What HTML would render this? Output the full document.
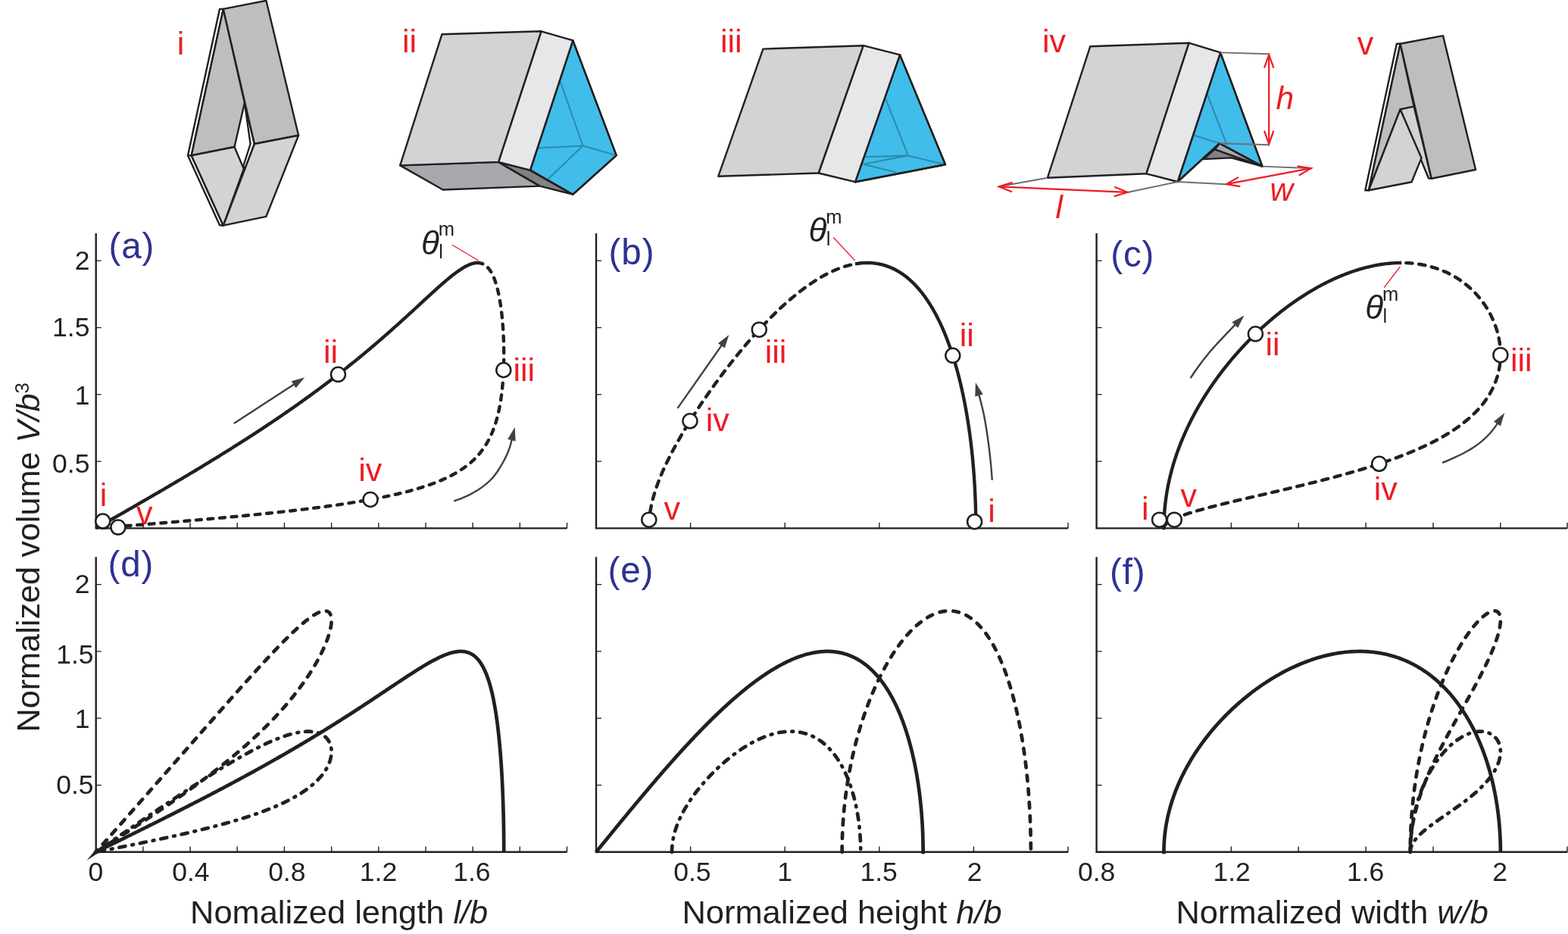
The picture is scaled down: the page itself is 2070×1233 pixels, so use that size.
<!DOCTYPE html>
<html lang="en">
<head>
<meta charset="utf-8">
<title>Normalized volume versus length, height and width</title>
<style>
html,body{margin:0;padding:0;background:#ffffff;}
body{width:2070px;height:1233px;overflow:hidden;}
svg{display:block;}
</style>
</head>
<body>
<svg width="2070" height="1233" viewBox="0 0 2070 1233" font-family="'Liberation Sans', sans-serif">
<rect width="2070" height="1233" fill="#ffffff"/>
<path d="M126.7 308L126.7 697.4L748.5 697.4" fill="none" stroke="#231f20" stroke-width="2.4" stroke-linejoin="miter"/>
<line x1="126.7" y1="609.1" x2="133.7" y2="609.1" stroke="#231f20" stroke-width="1.3" />
<line x1="126.7" y1="520.8" x2="133.7" y2="520.8" stroke="#231f20" stroke-width="1.3" />
<line x1="126.7" y1="432.5" x2="133.7" y2="432.5" stroke="#231f20" stroke-width="1.3" />
<line x1="126.7" y1="344.2" x2="133.7" y2="344.2" stroke="#231f20" stroke-width="1.3" />
<line x1="188.88" y1="697.4" x2="188.88" y2="690" stroke="#231f20" stroke-width="1.4" />
<line x1="251.06" y1="697.4" x2="251.06" y2="690" stroke="#231f20" stroke-width="1.4" />
<line x1="313.24" y1="697.4" x2="313.24" y2="690" stroke="#231f20" stroke-width="1.4" />
<line x1="375.42" y1="697.4" x2="375.42" y2="690" stroke="#231f20" stroke-width="1.4" />
<line x1="437.6" y1="697.4" x2="437.6" y2="690" stroke="#231f20" stroke-width="1.4" />
<line x1="499.78" y1="697.4" x2="499.78" y2="690" stroke="#231f20" stroke-width="1.4" />
<line x1="561.96" y1="697.4" x2="561.96" y2="690" stroke="#231f20" stroke-width="1.4" />
<line x1="624.14" y1="697.4" x2="624.14" y2="690" stroke="#231f20" stroke-width="1.4" />
<line x1="686.32" y1="697.4" x2="686.32" y2="690" stroke="#231f20" stroke-width="1.4" />
<line x1="748.5" y1="697.4" x2="748.5" y2="690" stroke="#231f20" stroke-width="1.4" />
<path d="M787 308L787 697.4L1410 697.4" fill="none" stroke="#231f20" stroke-width="2.4" stroke-linejoin="miter"/>
<line x1="787" y1="609.1" x2="794" y2="609.1" stroke="#231f20" stroke-width="1.3" />
<line x1="787" y1="520.8" x2="794" y2="520.8" stroke="#231f20" stroke-width="1.3" />
<line x1="787" y1="432.5" x2="794" y2="432.5" stroke="#231f20" stroke-width="1.3" />
<line x1="787" y1="344.2" x2="794" y2="344.2" stroke="#231f20" stroke-width="1.3" />
<line x1="911.6" y1="697.4" x2="911.6" y2="690" stroke="#231f20" stroke-width="1.4" />
<line x1="1036.2" y1="697.4" x2="1036.2" y2="690" stroke="#231f20" stroke-width="1.4" />
<line x1="1160.8" y1="697.4" x2="1160.8" y2="690" stroke="#231f20" stroke-width="1.4" />
<line x1="1285.4" y1="697.4" x2="1285.4" y2="690" stroke="#231f20" stroke-width="1.4" />
<line x1="1410" y1="697.4" x2="1410" y2="690" stroke="#231f20" stroke-width="1.4" />
<path d="M1447.6 308L1447.6 697.4L2069.2 697.4" fill="none" stroke="#231f20" stroke-width="2.4" stroke-linejoin="miter"/>
<line x1="1447.6" y1="609.1" x2="1454.6" y2="609.1" stroke="#231f20" stroke-width="1.3" />
<line x1="1447.6" y1="520.8" x2="1454.6" y2="520.8" stroke="#231f20" stroke-width="1.3" />
<line x1="1447.6" y1="432.5" x2="1454.6" y2="432.5" stroke="#231f20" stroke-width="1.3" />
<line x1="1447.6" y1="344.2" x2="1454.6" y2="344.2" stroke="#231f20" stroke-width="1.3" />
<line x1="1536.48" y1="697.4" x2="1536.48" y2="690" stroke="#231f20" stroke-width="1.4" />
<line x1="1625.36" y1="697.4" x2="1625.36" y2="690" stroke="#231f20" stroke-width="1.4" />
<line x1="1714.24" y1="697.4" x2="1714.24" y2="690" stroke="#231f20" stroke-width="1.4" />
<line x1="1803.12" y1="697.4" x2="1803.12" y2="690" stroke="#231f20" stroke-width="1.4" />
<line x1="1892" y1="697.4" x2="1892" y2="690" stroke="#231f20" stroke-width="1.4" />
<line x1="1980.88" y1="697.4" x2="1980.88" y2="690" stroke="#231f20" stroke-width="1.4" />
<line x1="2069" y1="697.4" x2="2069" y2="690" stroke="#231f20" stroke-width="1.4" />
<text x="118.4" y="623.7" font-size="35.5" fill="#231f20" text-anchor="end" >0.5</text>
<text x="118.4" y="533.7" font-size="35.5" fill="#231f20" text-anchor="end" >1</text>
<text x="118.4" y="444.4" font-size="35.5" fill="#231f20" text-anchor="end" >1.5</text>
<text x="118.4" y="355.5" font-size="35.5" fill="#231f20" text-anchor="end" >2</text>
<path d="M126.7 735.3L126.7 1124.8L748.5 1124.8" fill="none" stroke="#231f20" stroke-width="2.4" stroke-linejoin="miter"/>
<line x1="126.7" y1="1036.5" x2="133.7" y2="1036.5" stroke="#231f20" stroke-width="1.3" />
<line x1="126.7" y1="948.2" x2="133.7" y2="948.2" stroke="#231f20" stroke-width="1.3" />
<line x1="126.7" y1="859.9" x2="133.7" y2="859.9" stroke="#231f20" stroke-width="1.3" />
<line x1="126.7" y1="771.6" x2="133.7" y2="771.6" stroke="#231f20" stroke-width="1.3" />
<line x1="188.88" y1="1124.8" x2="188.88" y2="1117.4" stroke="#231f20" stroke-width="1.4" />
<line x1="251.06" y1="1124.8" x2="251.06" y2="1117.4" stroke="#231f20" stroke-width="1.4" />
<line x1="313.24" y1="1124.8" x2="313.24" y2="1117.4" stroke="#231f20" stroke-width="1.4" />
<line x1="375.42" y1="1124.8" x2="375.42" y2="1117.4" stroke="#231f20" stroke-width="1.4" />
<line x1="437.6" y1="1124.8" x2="437.6" y2="1117.4" stroke="#231f20" stroke-width="1.4" />
<line x1="499.78" y1="1124.8" x2="499.78" y2="1117.4" stroke="#231f20" stroke-width="1.4" />
<line x1="561.96" y1="1124.8" x2="561.96" y2="1117.4" stroke="#231f20" stroke-width="1.4" />
<line x1="624.14" y1="1124.8" x2="624.14" y2="1117.4" stroke="#231f20" stroke-width="1.4" />
<line x1="686.32" y1="1124.8" x2="686.32" y2="1117.4" stroke="#231f20" stroke-width="1.4" />
<line x1="748.5" y1="1124.8" x2="748.5" y2="1117.4" stroke="#231f20" stroke-width="1.4" />
<text x="126.4" y="1163.1" font-size="35.5" fill="#231f20" text-anchor="middle" >0</text>
<text x="251.96" y="1163.1" font-size="35.5" fill="#231f20" text-anchor="middle" >0.4</text>
<text x="378.82" y="1163.1" font-size="35.5" fill="#231f20" text-anchor="middle" >0.8</text>
<text x="499.48" y="1163.1" font-size="35.5" fill="#231f20" text-anchor="middle" >1.2</text>
<text x="622.84" y="1163.1" font-size="35.5" fill="#231f20" text-anchor="middle" >1.6</text>
<path d="M787 735.3L787 1124.8L1410 1124.8" fill="none" stroke="#231f20" stroke-width="2.4" stroke-linejoin="miter"/>
<line x1="787" y1="1036.5" x2="794" y2="1036.5" stroke="#231f20" stroke-width="1.3" />
<line x1="787" y1="948.2" x2="794" y2="948.2" stroke="#231f20" stroke-width="1.3" />
<line x1="787" y1="859.9" x2="794" y2="859.9" stroke="#231f20" stroke-width="1.3" />
<line x1="787" y1="771.6" x2="794" y2="771.6" stroke="#231f20" stroke-width="1.3" />
<line x1="911.6" y1="1124.8" x2="911.6" y2="1117.4" stroke="#231f20" stroke-width="1.4" />
<line x1="1036.2" y1="1124.8" x2="1036.2" y2="1117.4" stroke="#231f20" stroke-width="1.4" />
<line x1="1160.8" y1="1124.8" x2="1160.8" y2="1117.4" stroke="#231f20" stroke-width="1.4" />
<line x1="1285.4" y1="1124.8" x2="1285.4" y2="1117.4" stroke="#231f20" stroke-width="1.4" />
<line x1="1410" y1="1124.8" x2="1410" y2="1117.4" stroke="#231f20" stroke-width="1.4" />
<text x="913.9" y="1163.1" font-size="35.5" fill="#231f20" text-anchor="middle" >0.5</text>
<text x="1036.2" y="1163.1" font-size="35.5" fill="#231f20" text-anchor="middle" >1</text>
<text x="1160.2" y="1163.1" font-size="35.5" fill="#231f20" text-anchor="middle" >1.5</text>
<text x="1286.6" y="1163.1" font-size="35.5" fill="#231f20" text-anchor="middle" >2</text>
<path d="M1447.6 735.3L1447.6 1124.8L2069.2 1124.8" fill="none" stroke="#231f20" stroke-width="2.4" stroke-linejoin="miter"/>
<line x1="1447.6" y1="1036.5" x2="1454.6" y2="1036.5" stroke="#231f20" stroke-width="1.3" />
<line x1="1447.6" y1="948.2" x2="1454.6" y2="948.2" stroke="#231f20" stroke-width="1.3" />
<line x1="1447.6" y1="859.9" x2="1454.6" y2="859.9" stroke="#231f20" stroke-width="1.3" />
<line x1="1447.6" y1="771.6" x2="1454.6" y2="771.6" stroke="#231f20" stroke-width="1.3" />
<line x1="1536.48" y1="1124.8" x2="1536.48" y2="1117.4" stroke="#231f20" stroke-width="1.4" />
<line x1="1625.36" y1="1124.8" x2="1625.36" y2="1117.4" stroke="#231f20" stroke-width="1.4" />
<line x1="1714.24" y1="1124.8" x2="1714.24" y2="1117.4" stroke="#231f20" stroke-width="1.4" />
<line x1="1803.12" y1="1124.8" x2="1803.12" y2="1117.4" stroke="#231f20" stroke-width="1.4" />
<line x1="1892" y1="1124.8" x2="1892" y2="1117.4" stroke="#231f20" stroke-width="1.4" />
<line x1="1980.88" y1="1124.8" x2="1980.88" y2="1117.4" stroke="#231f20" stroke-width="1.4" />
<line x1="2069" y1="1124.8" x2="2069" y2="1117.4" stroke="#231f20" stroke-width="1.4" />
<text x="1447.6" y="1163.1" font-size="35.5" fill="#231f20" text-anchor="middle" >0.8</text>
<text x="1626.16" y="1163.1" font-size="35.5" fill="#231f20" text-anchor="middle" >1.2</text>
<text x="1802.62" y="1163.1" font-size="35.5" fill="#231f20" text-anchor="middle" >1.6</text>
<text x="1980.18" y="1163.1" font-size="35.5" fill="#231f20" text-anchor="middle" >2</text>
<text x="123.6" y="1048" font-size="35.5" fill="#231f20" text-anchor="end" >0.5</text>
<text x="118.4" y="961.1" font-size="35.5" fill="#231f20" text-anchor="end" >1</text>
<text x="123.6" y="875.9" font-size="35.5" fill="#231f20" text-anchor="end" >1.5</text>
<text x="118.4" y="782.9" font-size="35.5" fill="#231f20" text-anchor="end" >2</text>
<text x="251.1" y="1218.8" font-size="43.4" fill="#231f20">Nomalized length <tspan font-style="italic">l/b</tspan></text>
<text x="900.5" y="1218.8" font-size="43.4" fill="#231f20">Normalized height <tspan font-style="italic">h/b</tspan></text>
<text x="1552.5" y="1218.8" font-size="43.4" fill="#231f20">Normalized width <tspan font-style="italic">w/b</tspan></text>
<text transform="translate(51.7 966.6) rotate(-90)" font-size="43.25" fill="#231f20">Normalized volume <tspan font-style="italic">V/b</tspan><tspan font-size="26" dy="-14">3</tspan></text>
<text x="143.5" y="341.4" font-size="47.5" fill="#2e3192" text-anchor="start" letter-spacing="0.9" >(a)</text>
<text x="803.6" y="349.1" font-size="47.5" fill="#2e3192" text-anchor="start" letter-spacing="0.9" >(b)</text>
<text x="1466.2" y="351.5" font-size="47.5" fill="#2e3192" text-anchor="start" letter-spacing="0.9" >(c)</text>
<text x="142.5" y="761" font-size="47.5" fill="#2e3192" text-anchor="start" letter-spacing="0.9" >(d)</text>
<text x="802.5" y="769.1" font-size="47.5" fill="#2e3192" text-anchor="start" letter-spacing="0.9" >(e)</text>
<text x="1465" y="771.2" font-size="47.5" fill="#2e3192" text-anchor="start" letter-spacing="0.9" >(f)</text>
<path d="M290 11.9 L294.8 11.9 L252.7 205.3 L294.8 297.7 L290 297.3 L248 205.3 Z" fill="#fff" stroke="#231f20" stroke-width="2.4" stroke-linejoin="round" stroke-linecap="round" /><path d="M294.8 11.9 L322.9 135.8 L309.5 194 L252.7 205.3 Z" fill="#bcbec0" stroke="#231f20" stroke-width="2.4" stroke-linejoin="round" stroke-linecap="round" /><path d="M252.7 205.3 L309.5 194 L321.8 222.9 L294.8 297.7 Z" fill="#d1d3d4" stroke="#231f20" stroke-width="2.4" stroke-linejoin="round" stroke-linecap="round" /><path d="M322.9 135.8 L335.9 190 L323.1 224.4 L321.3 219 L330.6 190 Z" fill="#fff" stroke="#231f20" stroke-width="2.4" stroke-linejoin="round" stroke-linecap="round" /><path d="M294.8 11.9 L351.4 0.8 L394.1 178.7 L335.9 190 Z" fill="#bcbec0" stroke="#231f20" stroke-width="2.4" stroke-linejoin="round" stroke-linecap="round" /><path d="M335.9 190 L394.1 178.7 L351.4 285.8 L294.8 297.7 Z" fill="#d1d3d4" stroke="#231f20" stroke-width="2.4" stroke-linejoin="round" stroke-linecap="round" /><line x1="248" y1="205.3" x2="252.7" y2="205.3" stroke="#231f20" stroke-width="2.4" />
<path d="M528.2 218.4 L658 213.9 L712.7 245.6 L584.7 250.5 Z" fill="#a7a9ac" stroke="#231f20" stroke-width="2.4" stroke-linejoin="round" stroke-linecap="round" /><path d="M658 213.9 L699.9 224.6 L756.3 256.7 L712.7 245.6 Z" fill="#808285" stroke="#231f20" stroke-width="2.4" stroke-linejoin="round" stroke-linecap="round" /><path d="M756.3 53.4 L813.7 205.1 L756.3 256.7 L699.9 224.6 Z" fill="#41bdea" stroke="#231f20" stroke-width="2.4" stroke-linejoin="round" stroke-linecap="round" /><line x1="739.8" y1="107.8" x2="769.5" y2="192.5" stroke="#2b8db0" stroke-width="2.1" /><line x1="709.6" y1="195.4" x2="769.5" y2="192.5" stroke="#2b8db0" stroke-width="2.1" /><line x1="813.7" y1="205.1" x2="769.5" y2="192.5" stroke="#2b8db0" stroke-width="2.1" /><line x1="723.2" y1="236.7" x2="769.5" y2="192.5" stroke="#2b8db0" stroke-width="2.1" /><path d="M756.3 53.4 L813.7 205.1 L756.3 256.7 L699.9 224.6 Z" fill="none" stroke="#231f20" stroke-width="2.4" stroke-linejoin="round" stroke-linecap="round" /><path d="M714.5 41.3 L756.3 53.4 L699.9 224.6 L658 213.9 Z" fill="#e6e7e8" stroke="#231f20" stroke-width="2.4" stroke-linejoin="round" stroke-linecap="round" /><path d="M583.5 45.2 L714.5 41.3 L658 213.9 L528.2 218.4 Z" fill="#d1d3d4" stroke="#231f20" stroke-width="2.4" stroke-linejoin="round" stroke-linecap="round" />
<path d="M1188 72.4 L1248 217.2 L1129 240.2 Z" fill="#41bdea" stroke="#231f20" stroke-width="2.4" stroke-linejoin="round" stroke-linecap="round" /><line x1="1169.5" y1="131.2" x2="1198.8" y2="205.4" stroke="#2b8db0" stroke-width="2.1" /><line x1="1198.8" y1="205.4" x2="1248" y2="217.2" stroke="#2b8db0" stroke-width="2.1" /><line x1="1142.3" y1="207.1" x2="1198.8" y2="205.4" stroke="#2b8db0" stroke-width="2.1" /><line x1="1139.6" y1="216.7" x2="1182.9" y2="227.5" stroke="#2b8db0" stroke-width="2.1" /><line x1="1139.6" y1="216.7" x2="1198.8" y2="205.4" stroke="#2b8db0" stroke-width="2.1" /><path d="M1188 72.4 L1248 217.2 L1129 240.2 Z" fill="none" stroke="#231f20" stroke-width="2.4" stroke-linejoin="round" stroke-linecap="round" /><path d="M1139.7 60.2 L1188 72.4 L1129 240.2 L1080.6 228.5 Z" fill="#e6e7e8" stroke="#231f20" stroke-width="2.4" stroke-linejoin="round" stroke-linecap="round" /><path d="M1007.4 64.6 L1139.7 60.2 L1080.6 228.5 L948.2 232.8 Z" fill="#d1d3d4" stroke="#231f20" stroke-width="2.4" stroke-linejoin="round" stroke-linecap="round" />
<path d="M1603.7 197.2 L1588.7 210.1 L1625.6 208.4 L1666.5 219.6 Z" fill="#808285" stroke="#231f20" stroke-width="2.4" stroke-linejoin="round" stroke-linecap="round" /><path d="M1610.1 189.2 L1666.5 219.6 L1603.7 197.2 Z" fill="#a7a9ac" stroke="#231f20" stroke-width="2.4" stroke-linejoin="round" stroke-linecap="round" /><path d="M1611.1 69.4 L1666.5 219.6 L1610.1 189.2 L1554.6 240 Z" fill="#41bdea" stroke="#231f20" stroke-width="2.4" stroke-linejoin="round" stroke-linecap="round" /><line x1="1593.6" y1="124.2" x2="1619.6" y2="191" stroke="#2b8db0" stroke-width="2.1" /><line x1="1575.6" y1="178.5" x2="1610.1" y2="189.2" stroke="#2b8db0" stroke-width="2.1" /><path d="M1611.1 69.4 L1666.5 219.6 L1610.1 189.2 L1554.6 240 Z" fill="none" stroke="#231f20" stroke-width="2.4" stroke-linejoin="round" stroke-linecap="round" /><path d="M1569.5 56.7 L1611.1 69.4 L1554.6 240 L1513.2 229.3 Z" fill="#e6e7e8" stroke="#231f20" stroke-width="2.4" stroke-linejoin="round" stroke-linecap="round" /><path d="M1439.2 61.3 L1569.5 56.7 L1513.2 229.3 L1382.9 234.7 Z" fill="#d1d3d4" stroke="#231f20" stroke-width="2.4" stroke-linejoin="round" stroke-linecap="round" /><line x1="1611.1" y1="69.4" x2="1675.2" y2="71.2" stroke="#6d6e71" stroke-width="1.9" /><line x1="1610.1" y1="189.2" x2="1675.2" y2="191.2" stroke="#6d6e71" stroke-width="1.9" /><line x1="1666.5" y1="219.6" x2="1731.7" y2="222.2" stroke="#6d6e71" stroke-width="1.9" /><line x1="1554.6" y1="240" x2="1618.5" y2="243.2" stroke="#6d6e71" stroke-width="1.9" /><line x1="1382.9" y1="234.7" x2="1318.8" y2="246.3" stroke="#6d6e71" stroke-width="1.9" /><line x1="1554.6" y1="240" x2="1489.5" y2="253.8" stroke="#6d6e71" stroke-width="1.9" /><line x1="1675.2" y1="72.2" x2="1675.2" y2="190.2" stroke="#ed1c24" stroke-width="2.2" /><path d="M1681.4 89.7L1675.2 72.2L1669 89.7" fill="none" stroke="#ed1c24" stroke-width="2.2" stroke-linejoin="miter" stroke-miterlimit="10"/><path d="M1669 172.7L1675.2 190.2L1681.4 172.7" fill="none" stroke="#ed1c24" stroke-width="2.2" stroke-linejoin="miter" stroke-miterlimit="10"/><line x1="1318.8" y1="246.3" x2="1488.5" y2="253.8" stroke="#ed1c24" stroke-width="2.2" /><path d="M1336.56 240.88L1318.8 246.3L1336.01 253.27" fill="none" stroke="#ed1c24" stroke-width="2.2" stroke-linejoin="miter" stroke-miterlimit="10"/><path d="M1470.74 259.22L1488.5 253.8L1471.29 246.83" fill="none" stroke="#ed1c24" stroke-width="2.2" stroke-linejoin="miter" stroke-miterlimit="10"/><line x1="1619" y1="243.2" x2="1730.8" y2="222.2" stroke="#ed1c24" stroke-width="2.2" /><path d="M1635.05 233.88L1619 243.2L1637.34 246.06" fill="none" stroke="#ed1c24" stroke-width="2.2" stroke-linejoin="miter" stroke-miterlimit="10"/><path d="M1714.75 231.52L1730.8 222.2L1712.46 219.34" fill="none" stroke="#ed1c24" stroke-width="2.2" stroke-linejoin="miter" stroke-miterlimit="10"/><text x="1684.5" y="143.9" font-size="42.5" fill="#ed1c24" text-anchor="start" font-style="italic" >h</text><text x="1676.5" y="264.6" font-size="42.5" fill="#ed1c24" text-anchor="start" font-style="italic" >w</text><text x="1393.5" y="288" font-size="42.5" fill="#ed1c24" text-anchor="start" font-style="italic" >l</text>
<path d="M1843.9 57.8 L1848.6 57.8 L1806.9 251.2 L1802.3 251.2 Z" fill="#fff" stroke="#231f20" stroke-width="2.4" stroke-linejoin="round" stroke-linecap="round" /><path d="M1848.6 57.8 L1866.6 140.6 L1848.6 144.4 L1806.9 251.2 Z" fill="#bcbec0" stroke="#231f20" stroke-width="2.4" stroke-linejoin="round" stroke-linecap="round" /><path d="M1848.6 144.4 L1866.6 140.6 L1889.8 235.8 L1885.9 235.3 Z" fill="#d1d3d4" stroke="#231f20" stroke-width="2.4" stroke-linejoin="round" stroke-linecap="round" /><path d="M1848.6 144.4 L1876.5 208.6 L1863.6 240.2 L1806.9 251.2 Z" fill="#d1d3d4" stroke="#231f20" stroke-width="2.4" stroke-linejoin="round" stroke-linecap="round" /><path d="M1848.6 57.8 L1905 47.1 L1948.1 224 L1889.8 235.8 Z" fill="#bcbec0" stroke="#231f20" stroke-width="2.4" stroke-linejoin="round" stroke-linecap="round" />
<path d="M630.5 346.97L632.18 347.05L633.8 347.28L635.36 347.65L636.86 348.16L638.31 348.82L639.7 349.61L641.05 350.53L642.34 351.59L643.58 352.77L644.78 354.09L645.94 355.52L646.83 356.76L647.69 358.07L648.53 359.46L649.34 360.91L650.12 362.44L650.88 364.04L651.62 365.7L652.33 367.43L653.02 369.22L653.68 371.08L654.16 372.51L654.64 373.97L655.09 375.46L655.54 376.99L655.98 378.54L656.4 380.13L656.81 381.74L657.21 383.38L657.6 385.05L657.98 386.75L658.35 388.47L658.7 390.21L659.05 391.98L659.38 393.77L659.71 395.59L660.02 397.42L660.33 399.27L660.62 401.15L660.9 403.04L661.18 404.95L661.44 406.88L661.7 408.82L661.94 410.78L662.18 412.75L662.41 414.74L662.62 416.74L662.83 418.75L663.03 420.78L663.22 422.81L663.4 424.85L663.57 426.9L663.73 428.96L663.89 431.03L664.03 433.1L664.17 435.18L664.3 437.27L664.41 439.36L664.53 441.45L664.63 443.54L664.72 445.64L664.81 447.74L664.88 449.84L664.95 451.94L665.01 454.04L665.06 456.14L665.1 458.24L665.14 460.33L665.17 462.43L665.18 464.52L665.19 466.6L665.19 468.68L665.19 470.76L665.17 472.83L665.15 474.9L665.12 476.95L665.08 479.01L665.03 481.05L664.97 483.09L664.91 485.12L664.83 487.14L664.75 489.15L664.66 491.15L664.56 493.15L664.45 495.13L664.34 497.1L664.21 499.06L664.08 501.02L663.94 502.96L663.79 504.89L663.63 506.8L663.46 508.71L663.28 510.61L663.09 512.49L662.9 514.36L662.69 516.21L662.48 518.06L662.26 519.89L662.02 521.71L661.78 523.52L661.53 525.31L661.27 527.09L661 528.86L660.72 530.61L660.43 532.35L660.13 534.07L659.81 535.79L659.49 537.48L659.16 539.17L658.82 540.84L658.47 542.5L658.1 544.14L657.73 545.77L657.34 547.39L656.95 548.99L656.54 550.58L656.12 552.16L655.69 553.72L655.25 555.27L654.79 556.81L654.32 558.33L653.84 559.84L653.35 561.34L652.85 562.82L652.33 564.29L651.8 565.75L651.25 567.19L650.69 568.62L650.12 570.04L649.54 571.45L648.93 572.84L648.32 574.22L647.69 575.59L647.04 576.95L646.16 578.74L645.25 580.51L644.31 582.26L643.34 583.99L642.34 585.7L641.31 587.39L640.25 589.06L639.15 590.7L638.02 592.34L636.86 593.95L635.66 595.54L634.43 597.12L633.48 598.29L632.51 599.45L631.51 600.6L630.5 601.74L629.46 602.87L628.4 603.99L627.32 605.1L626.21 606.2L625.08 607.3L623.92 608.38L622.73 609.46L621.52 610.53L620.29 611.59L619.02 612.64L617.73 613.68L616.41 614.71L615.06 615.74L613.67 616.76L612.26 617.77L610.82 618.77L609.35 619.77L607.84 620.76L606.3 621.74L604.72 622.71L603.11 623.68L601.46 624.64L599.78 625.59L598.06 626.54L596.3 627.47L594.5 628.41L592.67 629.33L590.79 630.25L588.86 631.17L586.9 632.07L584.89 632.98L582.84 633.87L581.44 634.47L580.03 635.06L578.59 635.65L577.13 636.23L575.65 636.82L574.15 637.4L572.63 637.98L571.08 638.55L569.51 639.13L567.92 639.7L566.3 640.27L564.66 640.83L562.99 641.4L561.3 641.96L559.59 642.52L557.85 643.08L556.08 643.64L554.29 644.19L552.47 644.74L550.62 645.29L548.74 645.84L546.84 646.39L544.91 646.93L542.95 647.47L540.96 648.01L538.94 648.55L536.89 649.09L534.81 649.62L532.71 650.15L530.56 650.68L528.39 651.21L526.19 651.74L523.95 652.27L521.68 652.79L519.38 653.31L517.04 653.83L514.67 654.35L512.26 654.87L509.82 655.38L507.35 655.9L504.84 656.41L502.29 656.92L499.7 657.43L497.08 657.94L494.42 658.44L491.72 658.95L488.99 659.45L486.21 659.95L483.4 660.45L480.54 660.95L477.65 661.45L474.71 661.94L473.23 662.19L471.74 662.44L470.23 662.69L468.72 662.93L467.2 663.18L465.66 663.43L464.12 663.67L462.56 663.92L460.99 664.16L459.42 664.41L457.83 664.65L456.23 664.9L454.62 665.14L453 665.38L451.37 665.63L449.73 665.87L448.08 666.11L446.41 666.35L444.74 666.6L443.05 666.84L441.36 667.08L439.65 667.32L437.93 667.56L436.2 667.8L434.46 668.04L432.71 668.28L430.94 668.52L429.17 668.76L427.38 669L425.58 669.24L423.77 669.48L421.95 669.72L420.12 669.96L418.28 670.2L416.42 670.44L414.56 670.67L412.68 670.91L410.79 671.15L408.89 671.39L406.98 671.62L405.05 671.86L403.12 672.09L401.17 672.33L399.21 672.57L397.24 672.8L395.26 673.04L393.26 673.27L391.26 673.51L389.24 673.74L387.21 673.98L385.17 674.21L383.12 674.45L381.06 674.68L378.98 674.91L376.89 675.15L374.8 675.38L372.69 675.61L370.57 675.85L368.43 676.08L366.29 676.31L364.13 676.54L361.96 676.78L359.79 677.01L357.6 677.24L355.39 677.47L353.18 677.7L350.96 677.93L348.72 678.17L346.47 678.4L344.22 678.63L341.95 678.86L339.67 679.09L337.37 679.32L335.07 679.55L332.76 679.78L330.43 680.01L328.1 680.24L325.75 680.47L323.4 680.7L321.03 680.93L318.65 681.16L316.26 681.39L313.86 681.61L311.45 681.84L309.03 682.07L306.6 682.3L304.16 682.53L301.71 682.76L299.25 682.98L296.78 683.21L294.3 683.44L291.81 683.67L289.31 683.89L286.81 684.12L284.29 684.35L281.76 684.58L279.22 684.8L276.68 685.03L274.12 685.26L271.56 685.48L268.99 685.71L266.4 685.94L263.81 686.16L261.22 686.39L258.61 686.62L256 686.84L253.37 687.07L250.74 687.29L248.1 687.52L245.46 687.75L242.8 687.97L240.14 688.2L237.48 688.42L234.8 688.65L232.12 688.87L229.43 689.1L226.73 689.32L224.03 689.55L221.32 689.77L218.61 690L215.89 690.22L213.16 690.45L210.43 690.67L207.69 690.9L204.95 691.12L202.2 691.35L199.45 691.57L196.69 691.8L193.93 692.02L191.16 692.25L188.39 692.47L185.61 692.69L182.84 692.92L180.05 693.14L177.27 693.37L174.47 693.59L171.68 693.82L168.88 694.04L166.09 694.26L163.28 694.49L160.48 694.71L157.67 694.94L154.86 695.16L152.05 695.38L149.24 695.61L146.43 695.83L143.61 696.06L140.79 696.28L137.98 696.5L135.16 696.73L132.34 696.95L129.52 697.18L126.7 697.4" fill="none" stroke="#231f20" stroke-width="4.4" stroke-linejoin="round" stroke-dasharray="6.9 8.7" stroke-linecap="round"/>
<path d="M630.5 346.97L628.76 347.04L626.95 347.25L625.46 347.54L623.92 347.92L622.33 348.4L620.7 348.98L619.02 349.66L617.29 350.44L615.51 351.32L614.14 352.04L612.74 352.83L611.3 353.67L609.84 354.57L608.34 355.53L606.81 356.54L605.25 357.62L603.65 358.75L602.02 359.94L600.35 361.19L598.64 362.5L596.89 363.86L595.71 364.8L594.5 365.77L593.28 366.77L592.04 367.79L590.79 368.84L589.51 369.91L588.21 371.01L586.9 372.13L585.57 373.28L584.21 374.46L582.84 375.66L581.44 376.88L580.03 378.14L578.59 379.42L577.13 380.72L575.65 382.05L574.15 383.41L572.63 384.79L571.08 386.19L569.51 387.62L567.92 389.08L566.3 390.56L564.66 392.07L562.99 393.6L561.3 395.16L559.59 396.74L557.85 398.35L556.08 399.98L554.29 401.63L552.47 403.31L550.62 405.02L548.74 406.75L546.84 408.5L544.91 410.28L542.95 412.08L540.96 413.9L538.94 415.75L536.89 417.62L534.81 419.52L532.71 421.44L530.56 423.38L528.39 425.35L526.19 427.34L523.95 429.35L522.82 430.36L521.68 431.38L520.53 432.41L519.38 433.44L518.21 434.48L517.04 435.52L515.86 436.57L514.67 437.62L513.47 438.68L512.26 439.75L511.05 440.82L509.82 441.89L508.59 442.97L507.35 444.06L506.1 445.15L504.84 446.25L503.57 447.35L502.29 448.46L501 449.57L499.7 450.69L498.4 451.82L497.08 452.94L495.76 454.08L494.42 455.22L493.08 456.36L491.72 457.51L490.36 458.67L488.99 459.83L487.6 461L486.21 462.17L484.81 463.34L483.4 464.52L481.97 465.71L480.54 466.9L479.1 468.1L477.65 469.3L476.19 470.5L474.71 471.71L473.23 472.93L471.74 474.15L470.23 475.37L468.72 476.6L467.2 477.84L465.66 479.08L464.12 480.32L462.56 481.57L460.99 482.83L459.42 484.08L457.83 485.35L456.23 486.61L454.62 487.89L453 489.16L451.37 490.44L449.73 491.73L448.08 493.02L446.41 494.32L444.74 495.62L443.05 496.92L441.36 498.23L439.65 499.54L437.93 500.86L436.2 502.18L434.46 503.5L432.71 504.83L430.94 506.17L429.17 507.5L427.38 508.85L425.58 510.19L423.77 511.54L421.95 512.9L420.12 514.26L418.28 515.62L416.42 516.98L414.56 518.35L412.68 519.73L410.79 521.11L408.89 522.49L406.98 523.88L405.05 525.27L403.12 526.66L401.17 528.06L399.21 529.46L397.24 530.86L395.26 532.27L393.26 533.68L391.26 535.1L389.24 536.52L387.21 537.94L385.17 539.37L383.12 540.8L381.06 542.23L378.98 543.67L376.89 545.11L374.8 546.55L372.69 548L370.57 549.45L368.43 550.9L366.29 552.36L364.13 553.82L361.96 555.28L359.79 556.75L357.6 558.22L355.39 559.69L353.18 561.16L350.96 562.64L348.72 564.12L346.47 565.61L344.22 567.1L341.95 568.59L339.67 570.08L337.37 571.57L335.07 573.07L332.76 574.57L330.43 576.08L328.1 577.59L325.75 579.1L323.4 580.61L321.03 582.12L318.65 583.64L316.26 585.16L313.86 586.68L311.45 588.21L309.03 589.73L306.6 591.26L304.16 592.8L301.71 594.33L299.25 595.87L296.78 597.41L294.3 598.95L291.81 600.49L289.31 602.04L286.81 603.58L284.29 605.13L281.76 606.69L279.22 608.24L276.68 609.79L274.12 611.35L271.56 612.91L268.99 614.47L266.4 616.04L263.81 617.6L261.22 619.17L258.61 620.74L256 622.31L253.37 623.88L250.74 625.45L248.1 627.03L245.46 628.61L242.8 630.19L240.14 631.77L237.48 633.35L234.8 634.93L232.12 636.51L229.43 638.1L226.73 639.69L224.03 641.27L221.32 642.86L218.61 644.46L215.89 646.05L213.16 647.64L210.43 649.23L207.69 650.83L204.95 652.43L202.2 654.02L199.45 655.62L196.69 657.22L193.93 658.82L191.16 660.42L188.39 662.02L185.61 663.63L182.84 665.23L180.05 666.83L177.27 668.44L174.47 670.04L171.68 671.65L168.88 673.26L166.09 674.86L163.28 676.47L160.48 678.08L157.67 679.69L154.86 681.3L152.05 682.91L149.24 684.52L146.43 686.13L143.61 687.74L140.79 689.35L137.98 690.96L135.16 692.57L132.34 694.18L129.52 695.79L126.7 697.4" fill="none" stroke="#231f20" stroke-width="4.4" stroke-linejoin="round"/>
<path d="M1128.95 348.41L1126.78 348.82L1124.6 349.27L1122.42 349.78L1120.96 350.15L1119.5 350.53L1118.04 350.94L1116.58 351.37L1115.12 351.82L1113.65 352.28L1112.19 352.77L1110.72 353.28L1109.25 353.81L1107.78 354.36L1106.31 354.93L1104.84 355.52L1103.37 356.13L1101.9 356.76L1100.42 357.41L1098.95 358.07L1097.48 358.75L1096 359.46L1094.53 360.18L1093.05 360.91L1091.58 361.67L1090.1 362.44L1088.63 363.23L1087.16 364.04L1085.68 364.86L1084.21 365.7L1082.74 366.56L1081.27 367.43L1079.8 368.32L1078.33 369.22L1076.86 370.14L1075.39 371.08L1073.92 372.03L1072.46 372.99L1070.99 373.97L1069.53 374.96L1068.07 375.97L1066.61 376.99L1065.15 378.02L1063.7 379.07L1062.24 380.13L1060.79 381.2L1059.34 382.29L1057.9 383.38L1056.45 384.49L1055.01 385.62L1053.57 386.75L1052.13 387.89L1050.7 389.05L1049.27 390.21L1047.84 391.39L1046.41 392.58L1044.99 393.77L1043.57 394.98L1042.15 396.2L1040.74 397.42L1039.33 398.65L1037.92 399.9L1036.52 401.15L1035.12 402.41L1033.73 403.68L1032.34 404.95L1030.95 406.24L1029.57 407.53L1028.19 408.82L1026.82 410.13L1025.45 411.44L1024.08 412.75L1022.72 414.08L1021.36 415.41L1020.01 416.74L1018.66 418.08L1017.32 419.43L1015.98 420.78L1014.65 422.13L1013.32 423.49L1012 424.85L1010.69 426.22L1009.37 427.59L1008.07 428.96L1006.77 430.34L1005.47 431.72L1004.18 433.1L1002.9 434.49L1001.62 435.88L1000.34 437.27L999.08 438.66L997.82 440.05L996.56 441.45L995.31 442.84L994.07 444.24L992.83 445.64L991.6 447.04L990.37 448.44L989.15 449.84L987.94 451.24L986.74 452.64L985.54 454.04L984.34 455.44L983.16 456.84L981.98 458.24L980.8 459.64L979.63 461.03L978.47 462.43L977.32 463.82L976.17 465.21L975.03 466.6L973.9 467.99L972.77 469.38L971.65 470.76L970.54 472.14L969.43 473.52L968.34 474.9L967.24 476.27L966.16 477.64L965.08 479.01L964.01 480.37L962.95 481.73L961.89 483.09L960.84 484.44L959.8 485.79L958.76 487.14L957.73 488.48L956.71 489.82L955.7 491.15L954.69 492.48L953.69 493.81L952.7 495.13L951.71 496.45L950.73 497.76L949.76 499.06L948.8 500.37L947.84 501.66L946.89 502.96L945.95 504.24L945.01 505.53L944.09 506.8L943.16 508.08L942.25 509.34L941.34 510.61L940.44 511.86L939.55 513.11L938.66 514.36L937.79 515.6L936.91 516.83L936.05 518.06L934.77 519.89L933.5 521.71L932.24 523.52L931.01 525.31L929.79 527.09L928.58 528.86L927.39 530.61L926.21 532.35L925.05 534.07L923.9 535.79L922.77 537.48L921.66 539.17L920.56 540.84L919.47 542.5L918.4 544.14L917.34 545.77L916.29 547.39L915.26 548.99L914.25 550.58L913.24 552.16L912.26 553.72L911.28 555.27L910.32 556.81L909.37 558.33L908.44 559.84L907.51 561.34L906.6 562.82L905.71 564.29L904.82 565.75L903.95 567.19L903.09 568.62L902.25 570.04L901.41 571.45L900.59 572.84L899.78 574.22L898.98 575.59L898.19 576.95L897.41 578.3L896.65 579.63L895.9 580.95L895.15 582.26L894.18 583.99L893.22 585.7L892.29 587.39L891.37 589.06L890.47 590.7L889.59 592.34L888.72 593.95L887.88 595.54L887.05 597.12L886.23 598.67L885.43 600.21L884.65 601.74L883.89 603.24L883.14 604.73L882.4 606.2L881.68 607.66L880.98 609.1L880.28 610.53L879.61 611.94L878.94 613.33L878.3 614.71L877.66 616.08L876.88 617.77L876.13 619.44L875.39 621.08L874.67 622.71L873.98 624.32L873.3 625.91L872.64 627.47L871.99 629.03L871.37 630.56L870.76 632.07L870.17 633.57L869.59 635.06L869.03 636.52L868.49 637.98L867.96 639.41L867.45 640.83L866.85 642.52L866.27 644.19L865.72 645.84L865.18 647.47L864.67 649.09L864.17 650.68L863.69 652.27L863.23 653.83L862.79 655.38L862.37 656.92L861.96 658.44L861.57 659.95L861.2 661.45L860.84 662.93L860.5 664.41L860.13 666.11L859.77 667.8L859.44 669.48L859.12 671.15L858.83 672.8L858.55 674.45L858.3 676.08L858.06 677.7L857.85 679.32L857.65 680.93L857.47 682.53L857.31 684.12L857.17 685.71L857.05 687.29L856.94 688.87L856.85 690.45L856.79 692.02L856.73 693.59L856.7 695.16L856.68 696.73L856.68 697.4" fill="none" stroke="#231f20" stroke-width="4.4" stroke-linejoin="round" stroke-dasharray="8.3 8.7" stroke-linecap="round" stroke-dashoffset="11.0"/>
<path d="M1128.95 348.41L1131.12 348.05L1133.28 347.74L1135.44 347.48L1137.59 347.28L1139.73 347.12L1141.87 347.02L1144 346.97L1146.13 346.98L1148.25 347.04L1150.35 347.15L1152.46 347.32L1154.55 347.54L1156.63 347.81L1158.71 348.15L1160.78 348.53L1162.83 348.98L1164.88 349.48L1166.92 350.03L1168.95 350.65L1170.96 351.32L1172.97 352.04L1174.97 352.83L1176.95 353.67L1178.93 354.57L1180.89 355.53L1182.84 356.54L1184.78 357.62L1186.71 358.75L1187.98 359.54L1189.25 360.35L1190.52 361.19L1191.78 362.05L1193.04 362.95L1194.28 363.86L1195.53 364.8L1196.76 365.77L1197.99 366.77L1199.22 367.79L1200.44 368.84L1201.65 369.91L1202.85 371.01L1204.05 372.13L1205.24 373.28L1206.43 374.46L1207.61 375.66L1208.78 376.88L1209.95 378.14L1211.11 379.42L1212.26 380.72L1213.41 382.05L1214.55 383.41L1215.68 384.79L1216.8 386.19L1217.92 387.62L1219.03 389.08L1220.13 390.56L1221.23 392.07L1222.32 393.6L1223.4 395.16L1224.47 396.74L1225.54 398.35L1226.6 399.98L1227.65 401.63L1228.69 403.31L1229.73 405.02L1230.76 406.75L1231.78 408.5L1232.79 410.28L1233.79 412.08L1234.79 413.9L1235.78 415.75L1236.76 417.62L1237.73 419.52L1238.7 421.44L1239.65 423.38L1240.6 425.35L1241.54 427.34L1242.47 429.35L1243.4 431.38L1244.31 433.44L1245.22 435.52L1246.12 437.62L1247.01 439.75L1247.89 441.89L1248.76 444.06L1249.62 446.25L1250.48 448.46L1251.32 450.69L1252.16 452.94L1252.99 455.22L1253.81 457.51L1254.62 459.83L1255.42 462.17L1256.22 464.52L1257 466.9L1257.78 469.3L1258.54 471.71L1259.3 474.15L1260.05 476.6L1260.79 479.08L1261.51 481.57L1262.24 484.08L1262.95 486.61L1263.65 489.16L1264.34 491.73L1265.02 494.32L1265.7 496.92L1266.36 499.54L1267.02 502.18L1267.66 504.83L1268.3 507.5L1268.93 510.19L1269.54 512.9L1270.15 515.62L1270.75 518.35L1271.34 521.11L1271.91 523.88L1272.48 526.66L1273.04 529.46L1273.59 532.27L1274.13 535.1L1274.66 537.94L1275.18 540.8L1275.69 543.67L1276.19 546.55L1276.68 549.45L1277.16 552.36L1277.63 555.28L1278.09 558.22L1278.54 561.16L1278.99 564.12L1279.2 565.61L1279.42 567.1L1279.63 568.59L1279.84 570.08L1280.04 571.57L1280.25 573.07L1280.45 574.57L1280.65 576.08L1280.85 577.59L1281.04 579.1L1281.23 580.61L1281.42 582.12L1281.61 583.64L1281.79 585.16L1281.97 586.68L1282.15 588.21L1282.33 589.73L1282.5 591.26L1282.67 592.8L1282.84 594.33L1283.01 595.87L1283.17 597.41L1283.33 598.95L1283.49 600.49L1283.65 602.04L1283.8 603.58L1283.95 605.13L1284.1 606.69L1284.25 608.24L1284.39 609.79L1284.53 611.35L1284.67 612.91L1284.8 614.47L1284.94 616.04L1285.07 617.6L1285.2 619.17L1285.32 620.74L1285.44 622.31L1285.57 623.88L1285.68 625.45L1285.8 627.03L1285.91 628.61L1286.02 630.19L1286.13 631.77L1286.23 633.35L1286.34 634.93L1286.44 636.51L1286.53 638.1L1286.63 639.69L1286.72 641.27L1286.81 642.86L1286.9 644.46L1286.98 646.05L1287.06 647.64L1287.14 649.23L1287.22 650.83L1287.29 652.43L1287.36 654.02L1287.43 655.62L1287.5 657.22L1287.56 658.82L1287.62 660.42L1287.68 662.02L1287.74 663.63L1287.79 665.23L1287.84 666.83L1287.89 668.44L1287.93 670.04L1287.98 671.65L1288.02 673.26L1288.05 674.86L1288.09 676.47L1288.12 678.08L1288.15 679.69L1288.18 681.3L1288.2 682.91L1288.22 684.52L1288.24 686.13L1288.26 687.74L1288.28 689.35L1288.29 690.96L1288.3 692.57L1288.3 694.18L1288.31 695.79L1288.31 697.4" fill="none" stroke="#231f20" stroke-width="4.4" stroke-linejoin="round"/>
<path d="M1850.29 346.97L1852.25 346.99L1854.2 347.02L1856.14 347.09L1858.07 347.17L1859.99 347.28L1861.89 347.41L1863.79 347.56L1865.67 347.74L1867.54 347.94L1869.4 348.16L1871.24 348.41L1873.07 348.67L1874.9 348.96L1876.7 349.27L1878.5 349.61L1880.28 349.96L1882.05 350.34L1883.81 350.73L1885.55 351.15L1887.28 351.59L1889 352.05L1890.7 352.53L1892.39 353.03L1894.07 353.55L1895.73 354.09L1897.38 354.65L1899.02 355.23L1900.64 355.83L1902.25 356.44L1903.84 357.08L1905.42 357.74L1906.98 358.41L1908.53 359.1L1910.07 359.81L1911.59 360.54L1913.1 361.29L1914.59 362.05L1916.06 362.83L1917.52 363.63L1918.97 364.45L1920.4 365.28L1921.82 366.13L1923.22 366.99L1924.61 367.87L1925.98 368.77L1927.33 369.68L1928.67 370.61L1929.99 371.55L1931.3 372.51L1932.59 373.48L1933.87 374.46L1935.13 375.46L1936.38 376.48L1937.6 377.5L1938.82 378.54L1940.01 379.6L1941.19 380.66L1942.36 381.74L1943.5 382.83L1944.63 383.94L1945.75 385.05L1946.85 386.18L1947.93 387.32L1948.99 388.47L1950.04 389.63L1951.07 390.8L1952.09 391.98L1953.08 393.17L1954.06 394.37L1955.03 395.59L1955.97 396.81L1956.9 398.04L1957.82 399.27L1958.71 400.52L1959.59 401.78L1960.45 403.04L1961.29 404.31L1962.12 405.59L1962.93 406.88L1963.72 408.17L1964.49 409.47L1965.25 410.78L1965.99 412.1L1966.71 413.42L1967.42 414.74L1968.44 416.74L1969.42 418.75L1970.37 420.78L1971.27 422.81L1972.13 424.85L1972.96 426.9L1973.74 428.96L1974.48 431.03L1975.18 433.1L1975.84 435.18L1976.47 437.27L1977.05 439.36L1977.59 441.45L1978.09 443.54L1978.54 445.64L1978.96 447.74L1979.34 449.84L1979.67 451.94L1979.97 454.04L1980.22 456.14L1980.43 458.24L1980.6 460.33L1980.73 462.43L1980.82 464.52L1980.87 466.6L1980.88 468.68L1980.84 470.76L1980.77 472.83L1980.65 474.9L1980.49 476.95L1980.3 479.01L1980.06 481.05L1979.77 483.09L1979.45 485.12L1979.09 487.14L1978.69 489.15L1978.24 491.15L1977.76 493.15L1977.23 495.13L1976.66 497.1L1976.06 499.06L1975.41 501.02L1974.72 502.96L1973.99 504.89L1973.22 506.8L1972.41 508.71L1971.56 510.61L1970.67 512.49L1969.74 514.36L1968.77 516.21L1967.76 518.06L1966.71 519.89L1965.62 521.71L1964.49 523.52L1963.33 525.31L1962.12 527.09L1960.87 528.86L1959.59 530.61L1958.27 532.35L1956.9 534.07L1955.5 535.79L1954.06 537.48L1952.59 539.17L1951.58 540.29L1950.56 541.4L1949.52 542.5L1948.46 543.6L1947.39 544.69L1946.3 545.77L1945.19 546.85L1944.07 547.93L1942.93 548.99L1941.78 550.06L1940.6 551.11L1939.42 552.16L1938.21 553.2L1936.99 554.24L1935.76 555.27L1934.5 556.3L1933.23 557.32L1931.95 558.33L1930.65 559.34L1929.33 560.34L1928 561.34L1926.66 562.33L1925.29 563.31L1923.92 564.29L1922.52 565.26L1921.11 566.23L1919.69 567.19L1918.25 568.15L1916.8 569.1L1915.33 570.04L1913.84 570.98L1912.34 571.91L1910.83 572.84L1909.3 573.76L1907.76 574.68L1906.2 575.59L1904.63 576.5L1903.04 577.4L1901.44 578.3L1899.83 579.19L1898.2 580.07L1896.56 580.95L1894.9 581.83L1893.23 582.69L1891.55 583.56L1889.85 584.42L1888.14 585.27L1886.42 586.12L1884.68 586.97L1882.93 587.81L1881.17 588.64L1879.39 589.47L1877.6 590.29L1875.8 591.11L1873.99 591.93L1872.16 592.74L1870.32 593.55L1868.47 594.35L1866.61 595.14L1864.73 595.94L1862.84 596.72L1860.94 597.51L1859.03 598.29L1857.11 599.06L1855.18 599.83L1853.23 600.6L1851.27 601.36L1849.31 602.11L1847.33 602.87L1845.34 603.62L1843.34 604.36L1841.33 605.1L1839.31 605.84L1837.28 606.57L1835.24 607.3L1833.19 608.02L1831.12 608.74L1829.05 609.46L1826.97 610.17L1824.89 610.88L1822.79 611.59L1820.68 612.29L1818.56 612.99L1816.44 613.68L1814.3 614.37L1812.16 615.06L1810.01 615.74L1807.85 616.42L1805.69 617.1L1803.51 617.77L1801.33 618.44L1799.14 619.11L1796.94 619.77L1794.74 620.43L1792.53 621.08L1790.31 621.74L1788.09 622.39L1785.85 623.03L1783.62 623.68L1781.37 624.32L1779.13 624.96L1776.87 625.59L1774.61 626.22L1772.35 626.85L1770.08 627.47L1767.8 628.1L1765.52 628.72L1763.24 629.33L1760.95 629.95L1758.66 630.56L1756.36 631.17L1754.06 631.77L1751.76 632.38L1749.45 632.98L1747.14 633.57L1744.83 634.17L1742.52 634.76L1740.2 635.35L1737.88 635.94L1735.56 636.52L1733.24 637.11L1730.91 637.69L1728.59 638.26L1726.26 638.84L1723.94 639.41L1721.61 639.98L1719.28 640.55L1716.95 641.12L1714.63 641.68L1712.3 642.24L1709.98 642.8L1707.65 643.36L1705.33 643.91L1703.01 644.47L1700.69 645.02L1698.38 645.57L1696.06 646.11L1693.75 646.66L1691.45 647.2L1689.14 647.74L1686.84 648.28L1684.55 648.82L1682.25 649.35L1679.97 649.89L1677.68 650.42L1675.41 650.95L1673.13 651.48L1670.87 652L1668.61 652.53L1666.36 653.05L1664.11 653.57L1661.87 654.09L1659.64 654.61L1657.42 655.12L1655.2 655.64L1652.99 656.15L1650.8 656.66L1648.61 657.17L1646.43 657.68L1644.26 658.19L1642.1 658.69L1639.95 659.2L1637.81 659.7L1635.69 660.2L1633.57 660.7L1631.47 661.2L1629.38 661.7L1627.3 662.19L1625.24 662.69L1623.19 663.18L1621.15 663.67L1619.13 664.16L1617.12 664.65L1615.13 665.14L1613.15 665.63L1611.19 666.11L1609.25 666.6L1607.32 667.08L1605.41 667.56L1603.52 668.04L1601.64 668.52L1599.79 669L1597.95 669.48L1596.13 669.96L1594.33 670.44L1592.55 670.91L1590.79 671.39L1589.06 671.86L1587.34 672.33L1585.65 672.8L1583.97 673.27L1582.32 673.74L1580.7 674.21L1579.09 674.68L1577.51 675.15L1575.95 675.61L1574.42 676.08L1572.91 676.54L1571.43 677.01L1569.98 677.47L1568.55 677.93L1566.45 678.63L1564.42 679.32L1562.44 680.01L1560.54 680.7L1558.69 681.39L1556.91 682.07L1555.2 682.76L1553.56 683.44L1551.99 684.12L1550.48 684.8L1549.05 685.48L1547.7 686.16L1546 687.07L1544.44 687.97L1543.01 688.87L1541.72 689.77L1540.3 690.9L1539.1 692.02L1537.96 693.37L1537.14 694.71L1536.59 696.28L1536.48 697.4" fill="none" stroke="#231f20" stroke-width="4.4" stroke-linejoin="round" stroke-dasharray="8.3 8.7" stroke-linecap="round" stroke-dashoffset="11.0"/>
<path d="M1850.29 346.97L1848.32 346.98L1846.34 347.01L1844.34 347.07L1842.34 347.15L1840.32 347.25L1838.29 347.38L1836.26 347.54L1834.21 347.72L1832.16 347.92L1830.09 348.15L1828.02 348.4L1825.93 348.67L1823.84 348.98L1821.73 349.3L1819.62 349.66L1817.5 350.03L1815.37 350.44L1813.23 350.86L1811.09 351.32L1808.93 351.79L1806.77 352.3L1804.6 352.83L1802.42 353.38L1800.23 353.96L1798.04 354.57L1795.84 355.2L1793.63 355.86L1791.42 356.54L1789.2 357.25L1786.97 357.99L1784.74 358.75L1782.5 359.54L1780.25 360.35L1778 361.19L1775.74 362.05L1773.48 362.95L1771.21 363.86L1768.94 364.8L1766.66 365.77L1764.38 366.77L1762.09 367.79L1759.8 368.84L1757.51 369.91L1755.21 371.01L1752.91 372.13L1750.61 373.28L1748.3 374.46L1745.99 375.66L1743.67 376.88L1741.36 378.14L1739.04 379.42L1736.72 380.72L1734.4 382.05L1732.07 383.41L1729.75 384.79L1727.42 386.19L1725.1 387.62L1722.77 389.08L1720.44 390.56L1718.12 392.07L1715.79 393.6L1713.47 395.16L1711.14 396.74L1708.82 398.35L1706.49 399.98L1704.17 401.63L1701.85 403.31L1699.54 405.02L1697.22 406.75L1694.91 408.5L1692.6 410.28L1690.29 412.08L1687.99 413.9L1685.69 415.75L1683.4 417.62L1681.11 419.52L1678.82 421.44L1676.54 423.38L1675.41 424.36L1674.27 425.35L1673.13 426.34L1672 427.34L1670.87 428.34L1669.74 429.35L1668.61 430.36L1667.48 431.38L1666.36 432.41L1665.23 433.44L1664.11 434.48L1662.99 435.52L1661.87 436.57L1660.75 437.62L1659.64 438.68L1658.53 439.75L1657.42 440.82L1656.31 441.89L1655.2 442.97L1654.1 444.06L1652.99 445.15L1651.89 446.25L1650.8 447.35L1649.7 448.46L1648.61 449.57L1647.52 450.69L1646.43 451.82L1645.34 452.94L1644.26 454.08L1643.18 455.22L1642.1 456.36L1641.02 457.51L1639.95 458.67L1638.88 459.83L1637.81 461L1636.75 462.17L1635.69 463.34L1634.63 464.52L1633.57 465.71L1632.52 466.9L1631.47 468.1L1630.42 469.3L1629.38 470.5L1628.34 471.71L1627.3 472.93L1626.27 474.15L1625.24 475.37L1624.21 476.6L1623.19 477.84L1622.17 479.08L1621.15 480.32L1620.14 481.57L1619.13 482.83L1618.12 484.08L1617.12 485.35L1616.12 486.61L1615.13 487.89L1614.14 489.16L1613.15 490.44L1612.17 491.73L1611.19 493.02L1610.22 494.32L1609.25 495.62L1608.28 496.92L1607.32 498.23L1606.36 499.54L1605.41 500.86L1604.46 502.18L1603.52 503.5L1602.58 504.83L1601.64 506.17L1600.71 507.5L1599.79 508.85L1598.87 510.19L1597.95 511.54L1597.04 512.9L1596.13 514.26L1595.23 515.62L1594.33 516.98L1593.44 518.35L1592.55 519.73L1591.67 521.11L1590.79 522.49L1589.92 523.88L1589.06 525.27L1588.2 526.66L1587.34 528.06L1586.49 529.46L1585.65 530.86L1584.81 532.27L1583.97 533.68L1583.14 535.1L1582.32 536.52L1581.51 537.94L1580.7 539.37L1579.89 540.8L1579.09 542.23L1578.3 543.67L1577.51 545.11L1576.73 546.55L1575.95 548L1575.18 549.45L1574.42 550.9L1573.67 552.36L1572.91 553.82L1572.17 555.28L1571.43 556.75L1570.7 558.22L1569.98 559.69L1569.26 561.16L1568.55 562.64L1567.84 564.12L1567.14 565.61L1566.45 567.1L1565.77 568.59L1565.09 570.08L1564.42 571.57L1563.75 573.07L1563.1 574.57L1562.44 576.08L1561.8 577.59L1561.17 579.1L1560.54 580.61L1559.91 582.12L1559.3 583.64L1558.69 585.16L1558.09 586.68L1557.5 588.21L1556.91 589.73L1556.34 591.26L1555.77 592.8L1555.2 594.33L1554.65 595.87L1554.1 597.41L1553.56 598.95L1553.03 600.49L1552.5 602.04L1551.99 603.58L1551.48 605.13L1550.98 606.69L1550.48 608.24L1550 609.79L1549.52 611.35L1549.05 612.91L1548.59 614.47L1548.14 616.04L1547.7 617.6L1547.26 619.17L1546.83 620.74L1546.41 622.31L1546 623.88L1545.6 625.45L1545.2 627.03L1544.81 628.61L1544.44 630.19L1544.07 631.77L1543.7 633.35L1543.35 634.93L1543.01 636.51L1542.67 638.1L1542.34 639.69L1542.03 641.27L1541.72 642.86L1541.42 644.46L1541.12 646.05L1540.84 647.64L1540.56 649.23L1540.3 650.83L1540.04 652.43L1539.79 654.02L1539.55 655.62L1539.32 657.22L1539.1 658.82L1538.89 660.42L1538.68 662.02L1538.49 663.63L1538.3 665.23L1538.12 666.83L1537.96 668.44L1537.8 670.04L1537.65 671.65L1537.51 673.26L1537.37 674.86L1537.25 676.47L1537.14 678.08L1537.03 679.69L1536.94 681.3L1536.85 682.91L1536.77 684.52L1536.7 686.13L1536.64 687.74L1536.59 689.35L1536.55 690.96L1536.52 692.57L1536.5 694.18L1536.48 695.79L1536.48 697.4" fill="none" stroke="#231f20" stroke-width="4.4" stroke-linejoin="round"/>
<path d="M126.7 1124.8L128.58 1122.67L130.46 1120.54L132.34 1118.41L134.22 1116.28L136.1 1114.16L137.97 1112.03L139.85 1109.9L141.73 1107.77L143.6 1105.65L145.48 1103.52L147.35 1101.4L149.23 1099.28L151.1 1097.16L152.97 1095.04L154.84 1092.92L156.71 1090.8L158.57 1088.69L160.43 1086.58L162.3 1084.46L164.16 1082.36L166.02 1080.25L167.87 1078.14L169.73 1076.04L171.58 1073.94L173.43 1071.84L175.27 1069.75L177.12 1067.66L178.96 1065.57L180.8 1063.48L182.63 1061.4L184.46 1059.32L186.29 1057.24L188.12 1055.17L189.94 1053.1L191.76 1051.03L193.58 1048.97L195.39 1046.91L197.2 1044.86L199.01 1042.81L200.81 1040.76L202.61 1038.72L204.4 1036.68L206.19 1034.64L207.97 1032.62L209.76 1030.59L211.53 1028.57L213.3 1026.55L215.07 1024.54L216.84 1022.54L218.59 1020.54L220.35 1018.54L222.1 1016.55L223.84 1014.57L225.58 1012.59L227.32 1010.61L229.05 1008.64L230.77 1006.68L232.49 1004.73L234.2 1002.77L235.91 1000.83L237.61 998.89L239.31 996.96L241 995.03L242.69 993.11L244.37 991.2L246.04 989.29L247.71 987.39L249.38 985.5L251.03 983.61L252.68 981.73L254.33 979.86L255.97 977.99L257.6 976.13L259.23 974.28L260.85 972.43L262.46 970.6L264.07 968.77L265.67 966.95L267.26 965.13L268.85 963.32L270.43 961.52L272.01 959.73L273.57 957.95L275.13 956.17L276.69 954.41L278.24 952.65L279.78 950.9L281.31 949.16L282.84 947.42L284.36 945.7L285.87 943.98L287.37 942.27L288.87 940.57L290.36 938.88L291.85 937.2L293.32 935.52L294.79 933.86L296.25 932.2L297.71 930.56L299.16 928.92L300.6 927.29L302.03 925.67L303.45 924.06L304.87 922.46L306.28 920.87L307.68 919.29L309.08 917.72L310.47 916.15L311.85 914.6L313.22 913.06L314.58 911.53L315.94 910L317.29 908.49L318.63 906.99L319.97 905.49L321.29 904.01L322.61 902.54L323.92 901.08L325.22 899.62L326.52 898.18L327.81 896.75L329.09 895.33L330.36 893.92L331.62 892.52L332.88 891.13L334.13 889.75L335.37 888.38L336.6 887.02L337.83 885.67L339.04 884.33L340.25 883.01L341.45 881.69L342.65 880.39L343.83 879.09L345.01 877.81L346.18 876.54L347.34 875.28L348.49 874.03L349.64 872.79L350.78 871.56L351.91 870.34L353.03 869.14L354.14 867.94L355.25 866.76L356.35 865.59L357.44 864.43L358.52 863.28L359.59 862.14L360.66 861.02L361.72 859.9L362.77 858.8L363.81 857.7L365.36 856.09L366.89 854.49L368.41 852.93L369.9 851.39L371.38 849.88L372.84 848.39L374.29 846.93L375.71 845.49L377.12 844.08L378.51 842.7L379.89 841.34L381.24 840.01L382.58 838.71L383.9 837.43L385.21 836.18L386.5 834.95L387.77 833.75L389.02 832.58L390.25 831.43L391.47 830.31L392.67 829.22L393.86 828.15L395.03 827.11L396.18 826.1L397.31 825.11L398.8 823.83L400.25 822.6L401.68 821.41L403.07 820.28L404.44 819.19L405.78 818.14L407.09 817.14L408.37 816.19L409.62 815.28L411.14 814.21L412.62 813.21L414.05 812.28L415.44 811.42L416.78 810.64L418.34 809.78L419.83 809.02L421.26 808.37L422.85 807.72L424.36 807.21L425.98 806.78L427.49 806.53L429.06 806.43L430.65 806.56L432.2 807L433.56 807.72L434.72 808.73L435.68 810.02L436.38 811.43L436.88 812.88L437.25 814.5L437.46 816.08L437.58 817.79L437.6 819.39L437.54 821.08L437.42 822.6L437.25 824.19L437.02 825.84L436.73 827.56L436.44 829.03L436.12 830.55L435.76 832.11L435.35 833.71L434.91 835.35L434.42 837.03L433.89 838.75L433.33 840.51L432.84 841.94L432.33 843.39L431.8 844.86L431.24 846.36L430.65 847.88L430.03 849.42L429.39 850.99L428.72 852.57L428.03 854.17L427.31 855.8L426.56 857.44L425.78 859.1L424.98 860.79L424.15 862.49L423.29 864.2L422.41 865.94L421.49 867.69L420.79 869.02L420.07 870.36L419.34 871.7L418.59 873.06L417.83 874.42L417.05 875.8L416.25 877.18L415.44 878.57L414.61 879.97L413.77 881.37L412.91 882.79L412.03 884.21L411.14 885.65L410.23 887.09L409.31 888.53L408.37 889.99L407.41 891.45L406.44 892.92L405.45 894.4L404.44 895.89L403.42 897.38L402.38 898.88L401.32 900.38L400.25 901.89L399.16 903.41L398.06 904.94L396.93 906.47L395.79 908.01L394.64 909.55L393.47 911.1L392.28 912.66L391.07 914.22L389.84 915.79L388.6 917.36L387.34 918.94L386.07 920.53L384.78 922.12L383.47 923.71L382.14 925.31L380.79 926.92L379.43 928.53L378.05 930.14L376.66 931.76L375.24 933.39L373.81 935.01L372.36 936.65L370.89 938.29L369.41 939.93L367.91 941.57L366.38 943.22L365.36 944.33L364.33 945.43L363.29 946.54L362.24 947.65L361.19 948.76L360.13 949.87L359.06 950.98L357.98 952.09L356.89 953.21L355.8 954.33L354.7 955.45L353.59 956.57L352.47 957.69L351.34 958.81L350.21 959.94L349.07 961.07L347.92 962.2L346.76 963.33L345.59 964.46L344.42 965.59L343.24 966.72L342.05 967.86L340.85 969L339.65 970.13L338.43 971.27L337.21 972.41L335.99 973.56L334.75 974.7L333.5 975.84L332.25 976.99L330.99 978.14L329.72 979.28L328.45 980.43L327.16 981.58L325.87 982.74L324.57 983.89L323.27 985.04L321.95 986.2L320.63 987.35L319.3 988.51L317.96 989.67L316.62 990.82L315.26 991.98L313.9 993.15L312.53 994.31L311.16 995.47L309.77 996.63L308.38 997.8L306.98 998.96L305.58 1000.13L304.16 1001.3L302.74 1002.46L301.31 1003.63L299.88 1004.8L298.43 1005.97L296.98 1007.14L295.52 1008.32L294.06 1009.49L292.59 1010.66L291.11 1011.84L289.62 1013.01L288.12 1014.19L286.62 1015.37L285.11 1016.54L283.6 1017.72L282.07 1018.9L280.54 1020.08L279.01 1021.26L277.46 1022.44L275.91 1023.62L274.35 1024.8L272.79 1025.98L271.22 1027.17L269.64 1028.35L268.06 1029.54L266.47 1030.72L264.87 1031.91L263.26 1033.09L261.65 1034.28L260.04 1035.47L258.41 1036.65L256.79 1037.84L255.15 1039.03L253.51 1040.22L251.86 1041.41L250.21 1042.6L248.55 1043.79L246.88 1044.98L245.21 1046.17L243.53 1047.36L241.85 1048.55L240.16 1049.75L238.46 1050.94L236.76 1052.13L235.06 1053.33L233.35 1054.52L231.63 1055.72L229.91 1056.91L228.18 1058.11L226.45 1059.3L224.71 1060.5L222.97 1061.7L221.22 1062.89L219.47 1064.09L217.72 1065.29L215.95 1066.48L214.19 1067.68L212.42 1068.88L210.64 1070.08L208.86 1071.28L207.08 1072.48L205.29 1073.68L203.5 1074.87L201.71 1076.07L199.91 1077.27L198.1 1078.48L196.3 1079.68L194.49 1080.88L192.67 1082.08L190.85 1083.28L189.03 1084.48L187.21 1085.68L185.38 1086.88L183.55 1088.08L181.71 1089.29L179.88 1090.49L178.04 1091.69L176.19 1092.89L174.35 1094.1L172.5 1095.3L170.65 1096.5L168.8 1097.71L166.94 1098.91L165.09 1100.11L163.23 1101.32L161.37 1102.52L159.5 1103.72L157.64 1104.93L155.77 1106.13L153.9 1107.34L152.03 1108.54L150.16 1109.74L148.29 1110.95L146.42 1112.15L144.54 1113.36L142.67 1114.56L140.79 1115.77L138.91 1116.97L137.04 1118.17L135.16 1119.38L133.28 1120.58L131.4 1121.79L129.52 1122.99L127.64 1124.2L126.7 1124.8" fill="none" stroke="#231f20" stroke-width="4.7" stroke-linejoin="round" stroke-dasharray="7.6 10.3" stroke-linecap="round" stroke-dashoffset="4.25"/>
<path d="M1111.65 1124.8L1111.65 1122.99L1111.66 1121.19L1111.68 1119.38L1111.7 1117.57L1111.72 1115.77L1111.75 1113.96L1111.79 1112.15L1111.83 1110.35L1111.88 1108.54L1111.93 1106.73L1111.99 1104.93L1112.05 1103.12L1112.12 1101.32L1112.2 1099.51L1112.28 1097.71L1112.36 1095.9L1112.45 1094.1L1112.55 1092.29L1112.65 1090.49L1112.76 1088.69L1112.88 1086.88L1113 1085.08L1113.12 1083.28L1113.25 1081.48L1113.39 1079.68L1113.53 1077.87L1113.68 1076.07L1113.83 1074.28L1113.99 1072.48L1114.15 1070.68L1114.32 1068.88L1114.5 1067.08L1114.68 1065.29L1114.86 1063.49L1115.05 1061.7L1115.25 1059.9L1115.46 1058.11L1115.66 1056.31L1115.88 1054.52L1116.1 1052.73L1116.32 1050.94L1116.55 1049.15L1116.79 1047.36L1117.03 1045.58L1117.28 1043.79L1117.53 1042L1117.79 1040.22L1118.05 1038.44L1118.32 1036.65L1118.6 1034.87L1118.88 1033.09L1119.17 1031.31L1119.46 1029.54L1119.76 1027.76L1120.06 1025.98L1120.37 1024.21L1120.68 1022.44L1121 1020.67L1121.33 1018.9L1121.66 1017.13L1121.99 1015.37L1122.34 1013.6L1122.68 1011.84L1123.04 1010.08L1123.39 1008.32L1123.76 1006.56L1124.13 1004.8L1124.5 1003.05L1124.88 1001.3L1125.27 999.55L1125.66 997.8L1126.06 996.05L1126.46 994.31L1126.87 992.56L1127.29 990.82L1127.7 989.09L1128.13 987.35L1128.56 985.62L1129 983.89L1129.44 982.16L1129.89 980.43L1130.34 978.71L1130.8 976.99L1131.26 975.27L1131.73 973.56L1132.2 971.84L1132.68 970.13L1133.17 968.43L1133.66 966.72L1134.16 965.02L1134.66 963.33L1135.17 961.63L1135.68 959.94L1136.2 958.25L1136.72 956.57L1137.25 954.89L1137.79 953.21L1138.33 951.54L1138.87 949.87L1139.42 948.2L1139.98 946.54L1140.54 944.88L1141.11 943.22L1141.68 941.57L1142.26 939.93L1142.84 938.29L1143.43 936.65L1144.02 935.01L1144.62 933.39L1145.23 931.76L1145.84 930.14L1146.45 928.53L1147.07 926.92L1147.7 925.31L1148.33 923.71L1148.96 922.12L1149.6 920.53L1150.25 918.94L1150.9 917.36L1151.56 915.79L1152.22 914.22L1152.89 912.66L1153.56 911.1L1154.24 909.55L1154.92 908.01L1155.61 906.47L1156.3 904.94L1157 903.41L1157.7 901.89L1158.41 900.38L1159.12 898.88L1159.84 897.38L1160.56 895.89L1161.29 894.4L1162.02 892.92L1162.75 891.45L1163.5 889.99L1164.24 888.53L1164.99 887.09L1165.75 885.65L1166.51 884.21L1167.28 882.79L1168.05 881.37L1168.82 879.97L1169.6 878.57L1170.39 877.18L1171.18 875.8L1171.97 874.42L1172.77 873.06L1173.57 871.7L1174.38 870.36L1175.19 869.02L1176.01 867.69L1176.83 866.38L1177.65 865.07L1178.48 863.77L1179.31 862.49L1180.15 861.21L1180.99 859.94L1181.84 858.69L1182.69 857.44L1183.54 856.21L1184.69 854.58L1185.84 852.97L1187 851.38L1188.17 849.81L1189.34 848.27L1190.52 846.74L1191.71 845.24L1192.9 843.76L1194.1 842.3L1195.3 840.86L1196.52 839.45L1197.74 838.06L1198.96 836.69L1200.19 835.35L1201.43 834.04L1202.67 832.75L1203.92 831.48L1205.17 830.25L1206.43 829.03L1207.69 827.85L1208.96 826.69L1210.24 825.56L1211.51 824.46L1212.8 823.39L1214.09 822.34L1215.38 821.33L1216.67 820.34L1217.98 819.39L1219.28 818.46L1220.59 817.57L1221.9 816.71L1223.22 815.87L1224.54 815.08L1225.86 814.31L1227.18 813.58L1228.51 812.88L1230.18 812.05L1231.85 811.28L1233.52 810.56L1235.2 809.89L1236.88 809.29L1238.56 808.73L1240.24 808.24L1241.93 807.8L1243.62 807.43L1245.31 807.11L1247 806.85L1248.69 806.65L1250.39 806.52L1252.08 806.44L1253.77 806.43L1255.46 806.49L1257.15 806.6L1258.84 806.78L1260.53 807.03L1262.22 807.34L1263.9 807.72L1265.58 808.17L1267.26 808.68L1268.94 809.27L1270.61 809.92L1272.27 810.64L1273.93 811.42L1275.59 812.28L1276.91 813.02L1278.23 813.8L1279.54 814.63L1280.85 815.5L1282.16 816.42L1283.46 817.39L1284.75 818.4L1286.05 819.45L1287.33 820.56L1288.61 821.71L1289.89 822.9L1291.16 824.14L1292.42 825.43L1293.68 826.77L1294.93 828.15L1296.18 829.58L1297.42 831.06L1298.65 832.58L1299.87 834.15L1300.79 835.36L1301.7 836.59L1302.61 837.85L1303.51 839.14L1304.4 840.45L1305.3 841.79L1306.18 843.16L1307.07 844.55L1307.95 845.97L1308.82 847.41L1309.69 848.88L1310.55 850.38L1311.41 851.9L1312.27 853.45L1313.12 855.02L1313.96 856.62L1314.8 858.25L1315.63 859.9L1316.46 861.58L1317.28 863.28L1318.1 865.01L1318.91 866.76L1319.71 868.54L1320.51 870.34L1321.31 872.17L1322.09 874.03L1322.88 875.91L1323.65 877.81L1324.42 879.74L1325.18 881.69L1325.94 883.67L1326.69 885.67L1327.43 887.7L1328.17 889.75L1328.9 891.82L1329.62 893.92L1330.34 896.04L1330.81 897.46L1331.28 898.9L1331.75 900.35L1332.21 901.81L1332.67 903.27L1333.13 904.75L1333.59 906.24L1334.04 907.74L1334.49 909.25L1334.93 910.76L1335.38 912.29L1335.81 913.83L1336.25 915.38L1336.68 916.93L1337.11 918.5L1337.54 920.08L1337.96 921.66L1338.38 923.26L1338.79 924.86L1339.21 926.48L1339.61 928.1L1340.02 929.74L1340.42 931.38L1340.82 933.03L1341.22 934.69L1341.61 936.36L1341.99 938.04L1342.38 939.72L1342.76 941.42L1343.14 943.12L1343.51 944.84L1343.88 946.56L1344.25 948.29L1344.61 950.03L1344.97 951.77L1345.32 953.53L1345.68 955.29L1346.02 957.06L1346.37 958.84L1346.71 960.63L1347.04 962.42L1347.38 964.23L1347.71 966.04L1348.03 967.86L1348.35 969.68L1348.67 971.51L1348.99 973.36L1349.3 975.2L1349.6 977.06L1349.9 978.92L1350.2 980.79L1350.5 982.67L1350.79 984.55L1351.08 986.44L1351.36 988.34L1351.64 990.24L1351.91 992.15L1352.18 994.07L1352.45 995.99L1352.71 997.92L1352.97 999.86L1353.23 1001.8L1353.48 1003.75L1353.73 1005.7L1353.97 1007.66L1354.21 1009.63L1354.44 1011.6L1354.67 1013.58L1354.9 1015.56L1355.12 1017.55L1355.34 1019.54L1355.55 1021.54L1355.76 1023.54L1355.97 1025.55L1356.17 1027.56L1356.37 1029.58L1356.56 1031.6L1356.75 1033.63L1356.94 1035.66L1357.12 1037.7L1357.29 1039.74L1357.47 1041.78L1357.64 1043.83L1357.8 1045.88L1357.96 1047.94L1358.11 1050L1358.27 1052.07L1358.41 1054.13L1358.56 1056.21L1358.69 1058.28L1358.83 1060.36L1358.96 1062.44L1359.08 1064.53L1359.21 1066.61L1359.32 1068.7L1359.44 1070.8L1359.54 1072.89L1359.65 1074.99L1359.75 1077.09L1359.84 1079.2L1359.94 1081.3L1360.02 1083.41L1360.11 1085.52L1360.18 1087.63L1360.26 1089.75L1360.33 1091.86L1360.39 1093.98L1360.45 1096.1L1360.51 1098.22L1360.56 1100.34L1360.61 1102.46L1360.65 1104.59L1360.69 1106.71L1360.73 1108.84L1360.76 1110.96L1360.79 1113.09L1360.81 1115.22L1360.82 1117.35L1360.84 1119.48L1360.85 1121.61L1360.85 1123.74L1360.85 1124.8" fill="none" stroke="#231f20" stroke-width="4.7" stroke-linejoin="round" stroke-dasharray="7.6 10.3" stroke-linecap="round"/>
<path d="M1861.8 1124.8L1861.81 1122.99L1861.84 1121.19L1861.87 1119.38L1861.93 1117.57L1862 1115.77L1862.09 1113.96L1862.19 1112.15L1862.31 1110.35L1862.44 1108.54L1862.59 1106.73L1862.76 1104.93L1862.94 1103.12L1863.13 1101.32L1863.35 1099.51L1863.57 1097.71L1863.82 1095.9L1864.07 1094.1L1864.35 1092.29L1864.63 1090.49L1864.94 1088.69L1865.25 1086.88L1865.59 1085.08L1865.93 1083.28L1866.29 1081.48L1866.67 1079.68L1867.06 1077.87L1867.47 1076.07L1867.88 1074.28L1868.32 1072.48L1868.76 1070.68L1869.22 1068.88L1869.7 1067.08L1870.18 1065.29L1870.68 1063.49L1871.2 1061.7L1871.72 1059.9L1872.26 1058.11L1872.82 1056.31L1873.38 1054.52L1873.96 1052.73L1874.55 1050.94L1875.15 1049.15L1875.76 1047.36L1876.39 1045.58L1877.02 1043.79L1877.67 1042L1878.33 1040.22L1879 1038.44L1879.68 1036.65L1880.37 1034.87L1881.07 1033.09L1881.78 1031.31L1882.5 1029.54L1883.23 1027.76L1883.97 1025.98L1884.72 1024.21L1885.48 1022.44L1886.24 1020.67L1887.02 1018.9L1887.81 1017.13L1888.6 1015.37L1889.4 1013.6L1890.21 1011.84L1891.02 1010.08L1891.85 1008.32L1892.68 1006.56L1893.51 1004.8L1894.36 1003.05L1895.21 1001.3L1896.06 999.55L1896.93 997.8L1897.79 996.05L1898.67 994.31L1899.55 992.56L1900.43 990.82L1901.32 989.09L1902.21 987.35L1903.11 985.62L1904.01 983.89L1904.92 982.16L1905.83 980.43L1906.74 978.71L1907.66 976.99L1908.57 975.27L1909.5 973.56L1910.42 971.84L1911.35 970.13L1912.27 968.43L1913.2 966.72L1914.13 965.02L1915.07 963.33L1916 961.63L1916.93 959.94L1917.87 958.25L1918.8 956.57L1919.74 954.89L1920.67 953.21L1921.61 951.54L1922.54 949.87L1923.48 948.2L1924.41 946.54L1925.34 944.88L1926.27 943.22L1927.2 941.57L1928.12 939.93L1929.05 938.29L1929.97 936.65L1930.89 935.01L1931.8 933.39L1932.71 931.76L1933.62 930.14L1934.53 928.53L1935.43 926.92L1936.33 925.31L1937.23 923.71L1938.12 922.12L1939 920.53L1939.88 918.94L1940.76 917.36L1941.63 915.79L1942.49 914.22L1943.35 912.66L1944.21 911.1L1945.06 909.55L1945.9 908.01L1946.74 906.47L1947.57 904.94L1948.39 903.41L1949.2 901.89L1950.01 900.38L1950.82 898.88L1951.61 897.38L1952.4 895.89L1953.18 894.4L1953.95 892.92L1954.71 891.45L1955.46 889.99L1956.21 888.53L1956.95 887.09L1957.68 885.65L1958.4 884.21L1959.11 882.79L1959.81 881.37L1960.51 879.97L1961.19 878.57L1961.86 877.18L1962.53 875.8L1963.18 874.42L1963.82 873.06L1964.67 871.25L1965.49 869.47L1966.3 867.69L1967.08 865.94L1967.85 864.2L1968.6 862.49L1969.33 860.79L1970.03 859.1L1970.72 857.44L1971.39 855.8L1972.03 854.17L1972.66 852.57L1973.26 850.99L1973.84 849.42L1974.4 847.88L1974.94 846.36L1975.45 844.86L1975.94 843.39L1976.41 841.94L1976.97 840.15L1977.49 838.4L1977.97 836.69L1978.42 835.02L1978.83 833.39L1979.2 831.8L1979.54 830.25L1979.84 828.73L1980.15 826.98L1980.4 825.28L1980.61 823.65L1980.75 822.09L1980.84 820.58L1980.88 818.92L1980.84 817.35L1980.71 815.67L1980.48 814.12L1980.1 812.54L1979.54 810.98L1978.83 809.64L1977.88 808.43L1976.64 807.43L1975.2 806.76L1973.7 806.47L1972.19 806.46L1970.55 806.7L1968.96 807.15L1967.47 807.72L1966.1 808.37L1964.67 809.14L1963.18 810.05L1961.86 810.94L1960.51 811.93L1959.11 813.02L1957.92 814L1956.7 815.06L1955.46 816.19L1954.2 817.39L1952.92 818.66L1951.61 820L1950.55 821.13L1949.47 822.3L1948.39 823.52L1947.29 824.78L1946.18 826.1L1945.06 827.45L1943.92 828.86L1942.78 830.31L1941.63 831.81L1940.47 833.36L1939.3 834.95L1938.41 836.18L1937.52 837.43L1936.63 838.71L1935.73 840.01L1934.83 841.34L1933.93 842.7L1933.02 844.08L1932.11 845.49L1931.19 846.93L1930.27 848.39L1929.35 849.88L1928.43 851.39L1927.51 852.93L1926.58 854.49L1925.65 856.09L1924.72 857.7L1923.79 859.35L1922.85 861.02L1921.92 862.71L1920.99 864.43L1920.05 866.17L1919.12 867.94L1918.18 869.74L1917.25 871.56L1916.31 873.41L1915.38 875.28L1914.44 877.17L1913.51 879.09L1912.58 881.04L1911.65 883.01L1910.73 885L1909.8 887.02L1908.88 889.06L1908.27 890.43L1907.66 891.82L1907.04 893.21L1906.44 894.62L1905.83 896.04L1905.22 897.46L1904.62 898.9L1904.01 900.35L1903.41 901.81L1902.81 903.27L1902.21 904.75L1901.62 906.24L1901.02 907.74L1900.43 909.25L1899.84 910.76L1899.25 912.29L1898.67 913.83L1898.09 915.38L1897.5 916.93L1896.93 918.5L1896.35 920.08L1895.78 921.66L1895.21 923.26L1894.64 924.86L1894.08 926.48L1893.51 928.1L1892.95 929.74L1892.4 931.38L1891.85 933.03L1891.3 934.69L1890.75 936.36L1890.21 938.04L1889.67 939.72L1889.13 941.42L1888.6 943.12L1888.07 944.84L1887.54 946.56L1887.02 948.29L1886.5 950.03L1885.99 951.77L1885.48 953.53L1884.97 955.29L1884.47 957.06L1883.97 958.84L1883.48 960.63L1882.99 962.42L1882.5 964.23L1882.02 966.04L1881.54 967.86L1881.07 969.68L1880.6 971.51L1880.14 973.36L1879.68 975.2L1879.22 977.06L1878.77 978.92L1878.33 980.79L1877.89 982.67L1877.45 984.55L1877.02 986.44L1876.6 988.34L1876.18 990.24L1875.76 992.15L1875.35 994.07L1874.95 995.99L1874.55 997.92L1874.15 999.86L1873.76 1001.8L1873.38 1003.75L1873 1005.7L1872.63 1007.66L1872.26 1009.63L1871.9 1011.6L1871.55 1013.58L1871.2 1015.56L1870.85 1017.55L1870.52 1019.54L1870.18 1021.54L1869.86 1023.54L1869.54 1025.55L1869.22 1027.56L1868.92 1029.58L1868.61 1031.6L1868.32 1033.63L1868.03 1035.66L1867.74 1037.7L1867.47 1039.74L1867.19 1041.78L1866.93 1043.83L1866.67 1045.88L1866.42 1047.94L1866.17 1050L1865.93 1052.07L1865.7 1054.13L1865.47 1056.21L1865.25 1058.28L1865.04 1060.36L1864.83 1062.44L1864.63 1064.53L1864.44 1066.61L1864.25 1068.7L1864.07 1070.8L1863.9 1072.89L1863.73 1074.99L1863.57 1077.09L1863.42 1079.2L1863.27 1081.3L1863.13 1083.41L1863 1085.52L1862.88 1087.63L1862.76 1089.75L1862.65 1091.86L1862.54 1093.98L1862.44 1096.1L1862.35 1098.22L1862.27 1100.34L1862.19 1102.46L1862.12 1104.59L1862.06 1106.71L1862 1108.84L1861.95 1110.96L1861.91 1113.09L1861.87 1115.22L1861.85 1117.35L1861.83 1119.48L1861.81 1121.61L1861.8 1123.74L1861.8 1124.8" fill="none" stroke="#231f20" stroke-width="4.7" stroke-linejoin="round" stroke-dasharray="7.6 10.3" stroke-linecap="round"/>
<path d="M126.7 1124.8L128.58 1124.43L130.46 1124.06L132.34 1123.69L134.22 1123.32L136.1 1122.94L137.97 1122.57L139.85 1122.2L141.73 1121.83L143.6 1121.46L145.48 1121.09L147.35 1120.72L149.23 1120.34L151.1 1119.97L152.97 1119.6L154.84 1119.23L156.71 1118.86L158.57 1118.48L160.43 1118.11L162.3 1117.74L164.16 1117.37L166.02 1117L167.87 1116.62L169.73 1116.25L171.58 1115.88L173.43 1115.5L175.27 1115.13L177.12 1114.76L178.96 1114.38L180.8 1114.01L182.63 1113.63L184.46 1113.26L186.29 1112.89L188.12 1112.51L189.94 1112.14L191.76 1111.76L193.58 1111.39L195.39 1111.01L197.2 1110.63L199.01 1110.26L200.81 1109.88L202.61 1109.51L204.4 1109.13L206.19 1108.75L207.97 1108.37L209.76 1108L211.53 1107.62L213.3 1107.24L215.07 1106.86L216.84 1106.48L218.59 1106.1L220.35 1105.72L222.1 1105.34L223.84 1104.96L225.58 1104.58L227.32 1104.2L229.05 1103.82L230.77 1103.44L232.49 1103.05L234.2 1102.67L235.91 1102.29L237.61 1101.9L239.31 1101.52L241 1101.14L242.69 1100.75L244.37 1100.37L246.04 1099.98L247.71 1099.59L249.38 1099.21L251.03 1098.82L252.68 1098.43L254.33 1098.05L255.97 1097.66L257.6 1097.27L259.23 1096.88L260.85 1096.49L262.46 1096.1L264.07 1095.71L265.67 1095.32L267.26 1094.93L268.85 1094.53L270.43 1094.14L272.01 1093.75L273.57 1093.35L275.13 1092.96L276.69 1092.56L278.24 1092.17L279.78 1091.77L281.31 1091.37L282.84 1090.98L284.36 1090.58L285.87 1090.18L287.37 1089.78L288.87 1089.38L290.36 1088.98L291.85 1088.58L293.32 1088.18L294.79 1087.78L296.25 1087.37L297.71 1086.97L299.16 1086.56L301.31 1085.96L303.45 1085.35L305.58 1084.74L307.68 1084.13L309.77 1083.51L311.85 1082.9L313.9 1082.28L315.94 1081.66L317.96 1081.04L319.97 1080.42L321.95 1079.8L323.92 1079.17L325.87 1078.54L327.81 1077.92L329.72 1077.29L331.62 1076.65L333.5 1076.02L335.37 1075.39L337.21 1074.75L339.04 1074.11L340.85 1073.47L342.65 1072.83L344.42 1072.18L346.18 1071.53L347.92 1070.89L349.64 1070.24L351.34 1069.58L353.03 1068.93L354.7 1068.27L356.35 1067.62L357.98 1066.96L359.59 1066.29L361.19 1065.63L362.77 1064.97L364.33 1064.3L365.87 1063.63L367.4 1062.96L368.91 1062.28L370.4 1061.61L371.87 1060.93L373.33 1060.25L374.77 1059.57L376.19 1058.88L377.59 1058.2L378.97 1057.51L380.34 1056.82L381.69 1056.13L383.03 1055.44L384.78 1054.51L386.5 1053.58L388.19 1052.64L389.84 1051.7L391.47 1050.76L393.07 1049.81L394.64 1048.86L396.18 1047.91L397.68 1046.96L399.16 1046L400.61 1045.03L402.03 1044.07L403.42 1043.1L404.78 1042.13L406.11 1041.15L407.41 1040.17L408.68 1039.19L409.92 1038.2L411.14 1037.22L412.32 1036.23L413.48 1035.23L414.61 1034.24L415.98 1032.99L417.31 1031.74L418.59 1030.49L419.83 1029.23L421.03 1027.97L422.18 1026.7L423.29 1025.44L424.36 1024.17L425.38 1022.9L426.37 1021.63L427.31 1020.36L428.2 1019.08L429.06 1017.81L429.87 1016.54L430.8 1015.01L431.66 1013.49L432.46 1011.96L433.21 1010.44L433.89 1008.93L434.52 1007.42L435.09 1005.91L435.6 1004.41L436.05 1002.92L436.44 1001.44L436.78 999.97L437.1 998.27L437.34 996.59L437.5 994.92L437.59 993.28L437.59 991.66L437.52 990.06L437.37 988.5L437.14 986.96L436.83 985.46L436.44 983.99L435.98 982.56L435.35 980.97L434.62 979.44L433.78 977.97L432.84 976.56L431.8 975.22L430.65 973.95L429.55 972.9L428.38 971.91L427.12 970.98L425.78 970.12L424.36 969.32L422.85 968.6L421.26 967.95L419.83 967.45L418.34 967.01L416.78 966.62L415.16 966.3L413.48 966.03L411.74 965.83L410.23 965.72L408.68 965.64L407.09 965.62L405.45 965.63L403.76 965.7L402.03 965.82L400.25 965.98L398.43 966.19L396.93 966.4L395.41 966.63L393.86 966.9L392.28 967.21L390.66 967.54L389.02 967.91L387.34 968.31L385.64 968.75L383.9 969.22L382.14 969.72L380.34 970.26L378.51 970.84L376.66 971.44L374.77 972.08L373.33 972.59L371.87 973.11L370.4 973.66L368.91 974.22L367.4 974.8L365.87 975.41L364.33 976.03L362.77 976.67L361.19 977.33L359.59 978.01L357.98 978.72L356.35 979.44L354.7 980.18L353.03 980.94L351.34 981.72L349.64 982.52L347.92 983.34L346.18 984.18L344.42 985.04L342.65 985.92L340.85 986.82L339.04 987.74L337.21 988.68L335.37 989.63L333.5 990.61L331.62 991.61L329.72 992.62L327.81 993.66L325.87 994.71L323.92 995.78L321.95 996.87L320.63 997.61L319.3 998.36L317.96 999.11L316.62 999.88L315.26 1000.65L313.9 1001.43L312.53 1002.21L311.16 1003.01L309.77 1003.81L308.38 1004.63L306.98 1005.45L305.58 1006.27L304.16 1007.11L302.74 1007.95L301.31 1008.8L299.88 1009.66L298.43 1010.53L296.98 1011.4L295.52 1012.29L294.06 1013.18L292.59 1014.07L291.11 1014.98L289.62 1015.89L288.12 1016.81L286.62 1017.74L285.11 1018.67L283.6 1019.61L282.07 1020.56L280.54 1021.52L279.01 1022.48L277.46 1023.45L275.91 1024.43L274.35 1025.41L272.79 1026.41L271.22 1027.4L269.64 1028.41L268.06 1029.42L266.47 1030.44L264.87 1031.46L263.26 1032.49L261.65 1033.53L260.04 1034.57L258.41 1035.63L256.79 1036.68L255.15 1037.74L253.51 1038.81L251.86 1039.89L250.21 1040.97L248.55 1042.06L246.88 1043.15L245.21 1044.25L243.53 1045.35L241.85 1046.46L240.16 1047.57L238.46 1048.7L236.76 1049.82L235.06 1050.95L233.35 1052.09L231.63 1053.23L229.91 1054.38L228.18 1055.53L226.45 1056.69L224.71 1057.85L222.97 1059.02L221.22 1060.19L219.47 1061.36L217.72 1062.54L215.95 1063.73L214.19 1064.92L212.42 1066.11L210.64 1067.31L208.86 1068.51L207.08 1069.72L205.29 1070.93L203.5 1072.14L201.71 1073.36L199.91 1074.58L198.1 1075.8L196.3 1077.03L194.49 1078.26L192.67 1079.5L190.85 1080.74L189.03 1081.98L187.21 1083.22L185.38 1084.47L183.55 1085.72L181.71 1086.98L179.88 1088.23L178.04 1089.49L176.19 1090.75L174.35 1092.02L172.5 1093.28L170.65 1094.55L168.8 1095.82L166.94 1097.1L165.09 1098.37L163.23 1099.65L161.37 1100.93L159.5 1102.21L157.64 1103.49L155.77 1104.77L153.9 1106.06L152.03 1107.35L150.16 1108.63L148.29 1109.92L146.42 1111.21L144.54 1112.5L142.67 1113.8L140.79 1115.09L138.91 1116.38L137.04 1117.68L135.16 1118.97L133.28 1120.27L131.4 1121.56L129.52 1122.86L127.64 1124.15L126.7 1124.8" fill="none" stroke="#231f20" stroke-width="4.7" stroke-linejoin="round" stroke-dasharray="8.2 9.0 1.8 9.0" stroke-linecap="round" stroke-dashoffset="-3.3"/>
<path d="M887.03 1124.8L887.04 1123.13L887.09 1121.46L887.16 1119.79L887.27 1118.11L887.41 1116.44L887.56 1114.94L887.74 1113.45L887.94 1111.95L888.16 1110.45L888.41 1108.94L888.68 1107.43L888.98 1105.91L889.31 1104.39L889.66 1102.86L890.04 1101.33L890.44 1099.79L890.87 1098.24L891.33 1096.68L891.82 1095.12L892.33 1093.55L892.87 1091.97L893.44 1090.38L894.04 1088.78L894.58 1087.37L895.15 1085.96L895.75 1084.53L896.36 1083.1L897 1081.66L897.66 1080.21L898.35 1078.75L899.06 1077.29L899.79 1075.81L900.55 1074.32L901.34 1072.83L902.15 1071.32L902.98 1069.8L903.72 1068.49L904.48 1067.18L905.26 1065.85L906.05 1064.52L906.87 1063.18L907.71 1061.83L908.57 1060.48L909.45 1059.11L910.35 1057.74L911.27 1056.36L912.21 1054.97L913.18 1053.58L914.17 1052.17L915.17 1050.76L916.21 1049.34L917.26 1047.91L918.34 1046.48L919.25 1045.27L920.19 1044.07L921.13 1042.85L922.1 1041.64L923.08 1040.42L924.08 1039.19L925.09 1037.96L926.12 1036.72L927.17 1035.48L928.23 1034.24L929.31 1032.99L930.41 1031.74L931.53 1030.49L932.66 1029.23L933.81 1027.97L934.98 1026.7L936.16 1025.44L937.36 1024.17L938.58 1022.9L939.82 1021.63L941.07 1020.36L942.34 1019.08L943.63 1017.81L944.94 1016.54L946.26 1015.27L947.6 1013.99L948.96 1012.72L950.33 1011.46L951.44 1010.44L952.57 1009.43L953.7 1008.42L954.85 1007.42L956 1006.41L957.17 1005.41L958.34 1004.41L959.53 1003.42L960.73 1002.43L961.93 1001.44L963.15 1000.46L964.38 999.48L965.62 998.51L966.87 997.55L968.12 996.59L969.39 995.63L970.67 994.69L971.95 993.75L973.25 992.81L974.55 991.89L975.87 990.97L977.19 990.06L978.52 989.17L979.86 988.28L981.21 987.4L982.57 986.53L983.93 985.67L985.3 984.82L986.68 983.99L988.07 983.17L989.47 982.36L990.87 981.56L992.28 980.78L993.69 980.01L995.12 979.25L996.55 978.51L997.98 977.79L999.42 977.08L1000.87 976.39L1002.32 975.71L1003.78 975.06L1005.24 974.42L1006.7 973.79L1008.17 973.19L1009.65 972.61L1011.13 972.05L1012.61 971.5L1014.09 970.98L1015.58 970.48L1017.07 970L1018.57 969.54L1020.06 969.11L1021.56 968.7L1023.06 968.31L1024.56 967.95L1026.07 967.61L1027.57 967.29L1029.07 967.01L1030.58 966.74L1032.08 966.51L1033.58 966.3L1035.09 966.12L1036.59 965.96L1038.09 965.83L1039.59 965.74L1041.46 965.65L1043.33 965.62L1045.19 965.63L1047.05 965.68L1048.91 965.79L1050.76 965.94L1052.6 966.14L1054.43 966.4L1056.26 966.7L1058.08 967.05L1059.89 967.46L1061.69 967.91L1063.49 968.42L1065.27 968.98L1067.04 969.6L1068.45 970.13L1069.85 970.69L1071.24 971.29L1072.62 971.92L1074 972.59L1075.37 973.29L1076.73 974.03L1078.07 974.8L1079.41 975.61L1080.74 976.45L1082.06 977.33L1083.37 978.25L1084.67 979.19L1085.95 980.18L1087.23 981.2L1088.49 982.25L1089.74 983.34L1090.98 984.47L1092.21 985.63L1093.42 986.82L1094.63 988.05L1095.82 989.31L1096.99 990.61L1098.15 991.94L1099.3 993.31L1100.44 994.71L1101.56 996.14L1102.66 997.61L1103.75 999.11L1104.83 1000.65L1105.89 1002.21L1106.94 1003.81L1107.97 1005.45L1108.98 1007.11L1109.98 1008.8L1110.96 1010.53L1111.69 1011.84L1112.41 1013.18L1113.12 1014.53L1113.81 1015.89L1114.5 1017.27L1115.18 1018.67L1115.85 1020.09L1116.51 1021.52L1117.16 1022.97L1117.8 1024.43L1118.43 1025.91L1119.05 1027.4L1119.66 1028.91L1120.26 1030.44L1120.85 1031.98L1121.43 1033.53L1122 1035.1L1122.56 1036.68L1123.11 1038.28L1123.65 1039.89L1124.17 1041.51L1124.69 1043.15L1125.19 1044.8L1125.69 1046.46L1126.17 1048.13L1126.65 1049.82L1127.11 1051.52L1127.56 1053.23L1128 1054.95L1128.43 1056.69L1128.85 1058.43L1129.26 1060.19L1129.65 1061.95L1130.04 1063.73L1130.41 1065.51L1130.77 1067.31L1131.12 1069.11L1131.46 1070.93L1131.79 1072.75L1132.11 1074.58L1132.41 1076.42L1132.71 1078.26L1132.99 1080.12L1133.26 1081.98L1133.52 1083.85L1133.76 1085.72L1134 1087.6L1134.22 1089.49L1134.44 1091.38L1134.64 1093.28L1134.82 1095.19L1135 1097.1L1135.17 1099.01L1135.32 1100.93L1135.46 1102.85L1135.59 1104.77L1135.71 1106.7L1135.81 1108.63L1135.9 1110.57L1135.99 1112.5L1136.06 1114.44L1136.11 1116.38L1136.16 1118.32L1136.19 1120.27L1136.22 1122.21L1136.23 1124.15L1136.23 1124.8" fill="none" stroke="#231f20" stroke-width="4.7" stroke-linejoin="round" stroke-dasharray="8.2 9.0 1.8 9.0" stroke-linecap="round"/>
<path d="M1861.8 1124.8L1861.87 1123.13L1862.09 1121.46L1862.4 1119.97L1862.82 1118.48L1863.35 1117L1863.99 1115.5L1864.73 1114.01L1865.47 1112.7L1866.29 1111.39L1867.19 1110.07L1868.17 1108.75L1869.22 1107.43L1870.35 1106.1L1871.37 1104.96L1872.45 1103.82L1873.57 1102.67L1874.75 1101.52L1875.97 1100.37L1877.24 1099.21L1878.55 1098.05L1879.91 1096.88L1881.07 1095.9L1882.26 1094.93L1883.48 1093.94L1884.72 1092.96L1885.99 1091.97L1887.28 1090.98L1888.6 1089.98L1889.94 1088.98L1891.3 1087.98L1892.68 1086.97L1894.08 1085.96L1895.49 1084.94L1896.93 1083.92L1898.38 1082.9L1899.84 1081.87L1901.32 1080.83L1902.81 1079.8L1904.31 1078.75L1905.83 1077.71L1907.35 1076.65L1908.88 1075.6L1910.42 1074.54L1911.65 1073.68L1912.89 1072.83L1914.13 1071.97L1915.38 1071.1L1916.62 1070.24L1917.87 1069.37L1919.12 1068.49L1920.36 1067.62L1921.61 1066.74L1922.85 1065.85L1924.1 1064.97L1925.34 1064.07L1926.58 1063.18L1927.81 1062.28L1929.05 1061.38L1930.27 1060.48L1931.5 1059.57L1932.71 1058.66L1933.93 1057.74L1935.13 1056.82L1936.33 1055.9L1937.52 1054.97L1938.71 1054.04L1939.88 1053.11L1941.34 1051.94L1942.78 1050.76L1944.21 1049.58L1945.62 1048.39L1947.01 1047.19L1948.39 1046L1949.74 1044.79L1951.08 1043.58L1952.4 1042.37L1953.69 1041.15L1954.96 1039.93L1956.21 1038.7L1957.44 1037.46L1958.64 1036.23L1959.81 1034.99L1960.96 1033.74L1962.08 1032.49L1963.18 1031.24L1964.25 1029.98L1965.29 1028.72L1966.3 1027.46L1967.28 1026.2L1968.23 1024.93L1969.15 1023.66L1970.03 1022.39L1970.89 1021.12L1971.71 1019.85L1972.66 1018.32L1973.55 1016.79L1974.4 1015.27L1975.2 1013.74L1975.94 1012.22L1976.64 1010.7L1977.29 1009.18L1977.88 1007.67L1978.42 1006.16L1978.91 1004.66L1979.34 1003.17L1979.73 1001.69L1980.05 1000.22L1980.37 998.51L1980.61 996.83L1980.77 995.16L1980.86 993.51L1980.88 991.89L1980.82 990.29L1980.69 988.72L1980.48 987.18L1980.2 985.67L1979.84 984.2L1979.34 982.56L1978.75 980.97L1978.07 979.44L1977.29 977.97L1976.41 976.56L1975.45 975.22L1974.4 973.95L1973.26 972.75L1972.03 971.64L1970.72 970.6L1969.33 969.65L1967.85 968.8L1966.5 968.13L1965.08 967.53L1963.61 967.01L1962.08 966.56L1960.51 966.2L1958.87 965.93L1957.19 965.74L1955.46 965.63L1953.95 965.62L1952.4 965.67L1950.82 965.79L1949.2 965.98L1947.57 966.24L1945.9 966.57L1944.21 966.98L1942.49 967.46L1941.05 967.91L1939.59 968.42L1938.12 968.98L1936.63 969.6L1935.13 970.26L1933.62 970.98L1932.11 971.76L1930.58 972.59L1929.05 973.47L1927.51 974.41L1925.96 975.41L1924.41 976.45L1923.17 977.33L1921.92 978.25L1920.67 979.19L1919.43 980.18L1918.18 981.2L1916.93 982.25L1915.69 983.34L1914.44 984.47L1913.2 985.63L1911.96 986.82L1910.73 988.05L1909.5 989.31L1908.27 990.61L1907.04 991.94L1905.83 993.31L1904.62 994.71L1903.41 996.14L1902.21 997.61L1901.02 999.11L1899.84 1000.65L1898.67 1002.21L1897.5 1003.81L1896.35 1005.45L1895.49 1006.69L1894.64 1007.95L1893.79 1009.23L1892.95 1010.53L1892.12 1011.84L1891.3 1013.18L1890.48 1014.53L1889.67 1015.89L1888.86 1017.27L1888.07 1018.67L1887.28 1020.09L1886.5 1021.52L1885.73 1022.97L1884.97 1024.43L1884.22 1025.91L1883.48 1027.4L1882.74 1028.91L1882.02 1030.44L1881.3 1031.98L1880.6 1033.53L1879.91 1035.1L1879.22 1036.68L1878.55 1038.28L1877.89 1039.89L1877.24 1041.51L1876.6 1043.15L1875.97 1044.8L1875.35 1046.46L1874.75 1048.13L1874.15 1049.82L1873.57 1051.52L1873 1053.23L1872.45 1054.95L1871.9 1056.69L1871.37 1058.43L1870.85 1060.19L1870.35 1061.95L1869.86 1063.73L1869.38 1065.51L1868.92 1067.31L1868.46 1069.11L1868.03 1070.93L1867.6 1072.75L1867.19 1074.58L1866.8 1076.42L1866.42 1078.26L1866.05 1080.12L1865.7 1081.98L1865.36 1083.85L1865.04 1085.72L1864.73 1087.6L1864.44 1089.49L1864.16 1091.38L1863.9 1093.28L1863.65 1095.19L1863.42 1097.1L1863.2 1099.01L1863 1100.93L1862.82 1102.85L1862.65 1104.77L1862.49 1106.7L1862.35 1108.63L1862.23 1110.57L1862.12 1112.5L1862.03 1114.44L1861.95 1116.38L1861.89 1118.32L1861.85 1120.27L1861.82 1122.21L1861.8 1124.15L1861.8 1124.8" fill="none" stroke="#231f20" stroke-width="4.7" stroke-linejoin="round" stroke-dasharray="8.2 9.0 1.8 9.0" stroke-linecap="round"/>
<path d="M665.19 1123.41L665.19 1120.64L665.18 1117.87L665.17 1115.09L665.16 1112.32L665.14 1109.55L665.12 1106.78L665.09 1104.02L665.06 1101.25L665.03 1098.49L664.99 1095.73L664.95 1092.98L664.91 1090.22L664.86 1087.48L664.81 1084.73L664.75 1081.99L664.69 1079.26L664.63 1076.53L664.56 1073.8L664.49 1071.08L664.41 1068.37L664.34 1065.66L664.25 1062.96L664.17 1060.27L664.08 1057.58L663.98 1054.9L663.89 1052.23L663.79 1049.56L663.68 1046.91L663.57 1044.26L663.46 1041.62L663.34 1038.99L663.22 1036.37L663.09 1033.76L662.96 1031.16L662.83 1028.57L662.69 1026L662.55 1023.43L662.41 1020.87L662.26 1018.32L662.1 1015.79L661.94 1013.27L661.78 1010.76L661.61 1008.26L661.44 1005.78L661.27 1003.3L661.09 1000.85L660.9 998.4L660.72 995.97L660.52 993.55L660.33 991.15L660.13 988.76L659.92 986.39L659.71 984.03L659.49 981.69L659.27 979.36L659.05 977.05L658.82 974.76L658.59 972.48L658.35 970.22L658.1 967.98L657.86 965.75L657.6 963.54L657.34 961.35L657.08 959.17L656.81 957.02L656.54 954.88L656.26 952.76L655.98 950.66L655.69 948.58L655.39 946.52L655.09 944.48L654.79 942.45L654.48 940.45L654.16 938.47L653.84 936.51L653.52 934.57L653.18 932.65L652.85 930.75L652.5 928.87L652.15 927.02L651.8 925.18L651.43 923.37L651.07 921.58L650.69 919.81L650.31 918.06L649.93 916.34L649.54 914.64L649.14 912.96L648.73 911.31L648.32 909.68L647.9 908.07L647.48 906.49L647.04 904.93L646.61 903.39L646.16 901.88L645.71 900.4L645.25 898.94L644.78 897.5L644.07 895.39L643.34 893.34L642.59 891.34L641.83 889.41L641.05 887.53L640.25 885.71L639.43 883.94L638.59 882.24L637.73 880.6L636.86 879.02L635.96 877.49L635.05 876.03L634.11 874.63L633.16 873.3L632.18 872.02L631.18 870.81L630.16 869.66L629.11 868.57L627.68 867.22L626.21 865.98L624.69 864.86L623.13 863.84L621.52 862.95L619.87 862.17L618.16 861.5L616.41 860.95L614.6 860.51L612.74 860.19L610.82 859.99L608.85 859.9L607.33 859.91L605.78 859.99L604.19 860.13L602.57 860.34L600.91 860.61L599.21 860.95L597.48 861.35L595.71 861.82L593.9 862.35L592.04 862.95L590.15 863.61L588.21 864.34L586.23 865.13L584.21 865.98L582.84 866.59L581.44 867.22L580.03 867.88L578.59 868.57L577.13 869.29L575.65 870.03L574.15 870.81L572.63 871.61L571.08 872.44L569.51 873.3L567.92 874.18L566.3 875.09L564.66 876.03L562.99 877L561.3 877.99L559.59 879.02L557.85 880.06L556.08 881.14L554.29 882.24L552.47 883.37L550.62 884.52L548.74 885.71L546.84 886.91L544.91 888.15L542.95 889.41L540.96 890.69L538.94 892L536.89 893.34L534.81 894.7L532.71 896.09L530.56 897.5L528.39 898.94L526.19 900.4L523.95 901.88L521.68 903.39L519.38 904.93L517.04 906.49L514.67 908.07L512.26 909.68L509.82 911.31L507.35 912.96L506.1 913.8L504.84 914.64L503.57 915.49L502.29 916.34L501 917.2L499.7 918.06L498.4 918.93L497.08 919.81L495.76 920.69L494.42 921.58L493.08 922.47L491.72 923.37L490.36 924.27L488.99 925.18L487.6 926.1L486.21 927.02L484.81 927.94L483.4 928.87L481.97 929.81L480.54 930.75L479.1 931.7L477.65 932.65L476.19 933.61L474.71 934.57L473.23 935.54L471.74 936.51L470.23 937.49L468.72 938.47L467.2 939.46L465.66 940.45L464.12 941.45L462.56 942.45L460.99 943.46L459.42 944.48L457.83 945.5L456.23 946.52L454.62 947.55L453 948.58L451.37 949.62L449.73 950.66L448.08 951.71L446.41 952.76L444.74 953.82L443.05 954.88L441.36 955.95L439.65 957.02L437.93 958.09L436.2 959.17L434.46 960.26L432.71 961.35L430.94 962.44L429.17 963.54L427.38 964.64L425.58 965.75L423.77 966.86L421.95 967.98L420.12 969.1L418.28 970.22L416.42 971.35L414.56 972.48L412.68 973.62L410.79 974.76L408.89 975.9L406.98 977.05L405.05 978.21L403.12 979.36L401.17 980.53L399.21 981.69L397.24 982.86L395.26 984.03L393.26 985.21L391.26 986.39L389.24 987.57L387.21 988.76L385.17 989.95L383.12 991.15L381.06 992.35L378.98 993.55L376.89 994.76L374.8 995.97L372.69 997.18L370.57 998.4L368.43 999.62L366.29 1000.85L364.13 1002.07L361.96 1003.3L359.79 1004.54L357.6 1005.78L355.39 1007.02L353.18 1008.26L350.96 1009.51L348.72 1010.76L346.47 1012.01L344.22 1013.27L341.95 1014.53L339.67 1015.79L337.37 1017.06L335.07 1018.32L332.76 1019.6L330.43 1020.87L328.1 1022.15L325.75 1023.43L323.4 1024.71L321.03 1026L318.65 1027.28L316.26 1028.57L313.86 1029.87L311.45 1031.16L309.03 1032.46L306.6 1033.76L304.16 1035.07L301.71 1036.37L299.25 1037.68L296.78 1038.99L294.3 1040.31L291.81 1041.62L289.31 1042.94L286.81 1044.26L284.29 1045.58L281.76 1046.91L279.22 1048.24L276.68 1049.56L274.12 1050.9L271.56 1052.23L268.99 1053.56L266.4 1054.9L263.81 1056.24L261.22 1057.58L258.61 1058.92L256 1060.27L253.37 1061.61L250.74 1062.96L248.1 1064.31L245.46 1065.66L242.8 1067.01L240.14 1068.37L237.48 1069.72L234.8 1071.08L232.12 1072.44L229.43 1073.8L226.73 1075.16L224.03 1076.53L221.32 1077.89L218.61 1079.26L215.89 1080.62L213.16 1081.99L210.43 1083.36L207.69 1084.73L204.95 1086.1L202.2 1087.48L199.45 1088.85L196.69 1090.22L193.93 1091.6L191.16 1092.98L188.39 1094.35L185.61 1095.73L182.84 1097.11L180.05 1098.49L177.27 1099.87L174.47 1101.25L171.68 1102.63L168.88 1104.02L166.09 1105.4L163.28 1106.78L160.48 1108.17L157.67 1109.55L154.86 1110.94L152.05 1112.32L149.24 1113.71L146.43 1115.09L143.61 1116.48L140.79 1117.87L137.98 1119.25L135.16 1120.64L132.34 1122.03L129.52 1123.41L126.7 1124.8" fill="none" stroke="#231f20" stroke-width="4.7" stroke-linejoin="round" stroke-linecap="square"/>
<path d="M788.13 1123.41L789.26 1122.03L790.39 1120.64L791.52 1119.25L792.65 1117.87L793.78 1116.48L794.91 1115.09L796.04 1113.71L797.17 1112.32L798.3 1110.94L799.43 1109.55L800.56 1108.17L801.69 1106.78L802.82 1105.4L803.95 1104.02L805.07 1102.63L806.2 1101.25L807.33 1099.87L808.46 1098.49L809.59 1097.11L810.72 1095.73L811.85 1094.35L812.97 1092.98L814.1 1091.6L815.23 1090.22L816.36 1088.85L817.48 1087.48L818.61 1086.1L819.74 1084.73L820.87 1083.36L821.99 1081.99L823.12 1080.62L824.24 1079.26L825.37 1077.89L826.49 1076.53L827.62 1075.16L828.74 1073.8L829.87 1072.44L830.99 1071.08L832.12 1069.72L833.24 1068.37L834.36 1067.01L835.49 1065.66L836.61 1064.31L837.73 1062.96L838.85 1061.61L839.98 1060.27L841.1 1058.92L842.22 1057.58L843.34 1056.24L844.46 1054.9L845.58 1053.56L846.7 1052.23L847.82 1050.9L848.94 1049.56L850.05 1048.24L851.17 1046.91L852.29 1045.58L853.41 1044.26L854.52 1042.94L855.64 1041.62L856.75 1040.31L857.87 1038.99L858.98 1037.68L860.1 1036.37L861.21 1035.07L862.32 1033.76L863.43 1032.46L864.55 1031.16L865.66 1029.87L866.77 1028.57L867.88 1027.28L868.99 1026L870.1 1024.71L871.21 1023.43L872.31 1022.15L873.42 1020.87L874.53 1019.6L875.63 1018.32L876.74 1017.06L877.85 1015.79L878.95 1014.53L880.05 1013.27L881.16 1012.01L882.26 1010.76L883.36 1009.51L884.46 1008.26L885.56 1007.02L886.66 1005.78L887.76 1004.54L888.86 1003.3L889.96 1002.07L891.05 1000.85L892.15 999.62L893.25 998.4L894.34 997.18L895.44 995.97L896.53 994.76L897.62 993.55L898.71 992.35L899.8 991.15L900.89 989.95L901.98 988.76L903.07 987.57L904.16 986.39L905.25 985.21L906.33 984.03L907.42 982.86L908.5 981.69L909.59 980.53L910.67 979.36L911.75 978.21L912.84 977.05L913.92 975.9L915 974.76L916.07 973.62L917.15 972.48L918.23 971.35L919.3 970.22L920.38 969.1L921.45 967.98L922.53 966.86L923.6 965.75L924.67 964.64L925.74 963.54L926.81 962.44L927.88 961.35L928.95 960.26L930.01 959.17L931.08 958.09L932.14 957.02L933.21 955.95L934.27 954.88L935.33 953.82L937.45 951.71L939.57 949.62L941.68 947.55L943.79 945.5L945.89 943.46L947.99 941.45L950.09 939.46L952.18 937.49L954.26 935.54L956.34 933.61L958.42 931.7L960.49 929.81L962.56 927.94L964.62 926.1L966.68 924.27L968.73 922.47L970.78 920.69L972.82 918.93L974.86 917.2L976.89 915.49L978.92 913.8L980.94 912.13L982.95 910.49L984.97 908.87L986.97 907.28L988.97 905.71L990.97 904.16L992.95 902.64L994.94 901.14L996.92 899.66L998.89 898.21L1000.85 896.79L1002.81 895.39L1004.77 894.02L1006.72 892.67L1008.66 891.34L1010.59 890.04L1012.52 888.77L1014.45 887.53L1016.37 886.31L1018.28 885.11L1020.18 883.94L1022.08 882.8L1023.97 881.69L1025.86 880.6L1027.74 879.54L1029.61 878.5L1031.48 877.49L1033.34 876.51L1035.19 875.56L1037.03 874.63L1038.87 873.74L1040.7 872.87L1042.53 872.02L1044.35 871.21L1046.16 870.42L1047.96 869.66L1049.76 868.93L1051.55 868.22L1053.33 867.55L1055.1 866.9L1056.87 866.28L1058.63 865.69L1060.38 865.13L1062.13 864.59L1063.87 864.09L1065.6 863.61L1067.32 863.16L1069.03 862.74L1070.74 862.35L1072.44 861.99L1074.13 861.66L1075.81 861.35L1077.49 861.08L1079.16 860.83L1080.82 860.61L1082.47 860.42L1084.11 860.26L1085.75 860.13L1087.37 860.03L1088.99 859.96L1090.6 859.91L1092.21 859.9L1093.8 859.91L1095.39 859.96L1096.96 860.03L1098.53 860.13L1100.09 860.26L1101.64 860.42L1103.19 860.61L1104.72 860.83L1106.24 861.08L1107.76 861.35L1109.27 861.66L1110.77 861.99L1112.26 862.35L1113.74 862.74L1115.21 863.16L1116.68 863.61L1118.13 864.09L1119.57 864.59L1121.01 865.13L1122.44 865.69L1123.85 866.28L1125.26 866.9L1126.66 867.55L1128.05 868.22L1129.43 868.93L1130.8 869.66L1132.17 870.42L1133.52 871.21L1134.86 872.02L1136.19 872.87L1137.52 873.74L1138.83 874.63L1140.14 875.56L1141.43 876.51L1142.72 877.49L1143.99 878.5L1145.26 879.54L1146.51 880.6L1147.76 881.69L1148.99 882.8L1150.22 883.94L1151.43 885.11L1152.64 886.31L1153.84 887.53L1155.02 888.77L1156.2 890.04L1157.36 891.34L1158.52 892.67L1159.66 894.02L1160.8 895.39L1161.92 896.79L1163.04 898.21L1164.14 899.66L1165.24 901.14L1166.32 902.64L1167.39 904.16L1168.46 905.71L1169.51 907.28L1170.55 908.87L1171.58 910.49L1172.6 912.13L1173.61 913.8L1174.61 915.49L1175.6 917.2L1176.58 918.93L1177.55 920.69L1178.5 922.47L1179.45 924.27L1180.39 926.1L1181.31 927.94L1182.22 929.81L1183.13 931.7L1184.02 933.61L1184.9 935.54L1185.77 937.49L1186.63 939.46L1187.48 941.45L1188.32 943.46L1189.14 945.5L1189.96 947.55L1190.76 949.62L1191.56 951.71L1192.34 953.82L1193.11 955.95L1193.87 958.09L1194.62 960.26L1195.36 962.44L1196.08 964.64L1196.8 966.86L1197.5 969.1L1198.19 971.35L1198.88 973.62L1199.55 975.9L1200.21 978.21L1200.85 980.53L1201.49 982.86L1202.11 985.21L1202.73 987.57L1203.33 989.95L1203.92 992.35L1204.5 994.76L1205.07 997.18L1205.62 999.62L1206.17 1002.07L1206.7 1004.54L1207.22 1007.02L1207.73 1009.51L1208.23 1012.01L1208.72 1014.53L1209.19 1017.06L1209.66 1019.6L1210.11 1022.15L1210.55 1024.71L1210.98 1027.28L1211.4 1029.87L1211.81 1032.46L1212.2 1035.07L1212.58 1037.68L1212.95 1040.31L1213.31 1042.94L1213.66 1045.58L1214 1048.24L1214.32 1050.9L1214.63 1053.56L1214.93 1056.24L1215.22 1058.92L1215.5 1061.61L1215.77 1064.31L1216.02 1067.01L1216.26 1069.72L1216.49 1072.44L1216.71 1075.16L1216.92 1077.89L1217.11 1080.62L1217.3 1083.36L1217.47 1086.1L1217.63 1088.85L1217.78 1091.6L1217.91 1094.35L1218.04 1097.11L1218.15 1099.87L1218.25 1102.63L1218.34 1105.4L1218.41 1108.17L1218.48 1110.94L1218.53 1113.71L1218.57 1116.48L1218.6 1119.25L1218.62 1122.03L1218.63 1124.8" fill="none" stroke="#231f20" stroke-width="4.7" stroke-linejoin="round" stroke-linecap="square"/>
<path d="M1980.88 1123.41L1980.86 1120.64L1980.82 1117.87L1980.77 1115.09L1980.69 1112.32L1980.6 1109.55L1980.49 1106.78L1980.37 1104.02L1980.22 1101.25L1980.06 1098.49L1979.87 1095.73L1979.67 1092.98L1979.45 1090.22L1979.22 1087.48L1978.96 1084.73L1978.69 1081.99L1978.39 1079.26L1978.09 1076.53L1977.76 1073.8L1977.41 1071.08L1977.05 1068.37L1976.66 1065.66L1976.26 1062.96L1975.84 1060.27L1975.41 1057.58L1974.95 1054.9L1974.48 1052.23L1973.99 1049.56L1973.48 1046.91L1972.96 1044.26L1972.41 1041.62L1971.85 1038.99L1971.27 1036.37L1970.67 1033.76L1970.06 1031.16L1969.42 1028.57L1968.77 1026L1968.1 1023.43L1967.42 1020.87L1966.71 1018.32L1965.99 1015.79L1965.25 1013.27L1964.49 1010.76L1963.72 1008.26L1962.93 1005.78L1962.12 1003.3L1961.29 1000.85L1960.45 998.4L1959.59 995.97L1958.71 993.55L1957.82 991.15L1956.9 988.76L1955.97 986.39L1955.03 984.03L1954.06 981.69L1953.08 979.36L1952.09 977.05L1951.07 974.76L1950.04 972.48L1948.99 970.22L1947.93 967.98L1946.85 965.75L1945.75 963.54L1944.63 961.35L1943.5 959.17L1942.36 957.02L1941.19 954.88L1940.01 952.76L1938.82 950.66L1937.6 948.58L1936.38 946.52L1935.13 944.48L1933.87 942.45L1932.59 940.45L1931.3 938.47L1929.99 936.51L1928.67 934.57L1927.33 932.65L1925.98 930.75L1924.61 928.87L1923.22 927.02L1921.82 925.18L1920.4 923.37L1918.97 921.58L1917.52 919.81L1916.06 918.06L1914.59 916.34L1913.1 914.64L1911.59 912.96L1910.07 911.31L1908.53 909.68L1906.98 908.07L1905.42 906.49L1903.84 904.93L1902.25 903.39L1900.64 901.88L1899.02 900.4L1897.38 898.94L1895.73 897.5L1894.07 896.09L1892.39 894.7L1890.7 893.34L1889 892L1887.28 890.69L1885.55 889.41L1883.81 888.15L1882.05 886.91L1880.28 885.71L1878.5 884.52L1876.7 883.37L1874.9 882.24L1873.07 881.14L1871.24 880.06L1869.4 879.02L1867.54 877.99L1865.67 877L1863.79 876.03L1861.89 875.09L1859.99 874.18L1858.07 873.3L1856.14 872.44L1854.2 871.61L1852.25 870.81L1850.29 870.03L1848.32 869.29L1846.34 868.57L1844.34 867.88L1842.34 867.22L1840.32 866.59L1838.29 865.98L1836.26 865.4L1834.21 864.86L1832.16 864.34L1830.09 863.84L1828.02 863.38L1825.93 862.95L1823.84 862.54L1821.73 862.17L1819.62 861.82L1817.5 861.5L1815.37 861.21L1813.23 860.95L1811.09 860.72L1808.93 860.51L1806.77 860.34L1804.6 860.19L1802.42 860.08L1800.23 859.99L1798.04 859.93L1795.84 859.9L1793.63 859.9L1791.42 859.93L1789.2 859.99L1786.97 860.08L1784.74 860.19L1782.5 860.34L1780.25 860.51L1778 860.72L1775.74 860.95L1773.48 861.21L1771.21 861.5L1768.94 861.82L1766.66 862.17L1764.38 862.54L1762.09 862.95L1759.8 863.38L1757.51 863.84L1755.21 864.34L1752.91 864.86L1750.61 865.4L1748.3 865.98L1745.99 866.59L1743.67 867.22L1741.36 867.88L1739.04 868.57L1736.72 869.29L1734.4 870.03L1732.07 870.81L1729.75 871.61L1727.42 872.44L1725.1 873.3L1722.77 874.18L1720.44 875.09L1718.12 876.03L1715.79 877L1713.47 877.99L1711.14 879.02L1708.82 880.06L1706.49 881.14L1704.17 882.24L1701.85 883.37L1699.54 884.52L1697.22 885.71L1694.91 886.91L1692.6 888.15L1690.29 889.41L1687.99 890.69L1685.69 892L1683.4 893.34L1681.11 894.7L1678.82 896.09L1676.54 897.5L1674.27 898.94L1672 900.4L1669.74 901.88L1667.48 903.39L1665.23 904.93L1662.99 906.49L1660.75 908.07L1658.53 909.68L1656.31 911.31L1654.1 912.96L1651.89 914.64L1649.7 916.34L1647.52 918.06L1645.34 919.81L1643.18 921.58L1641.02 923.37L1638.88 925.18L1636.75 927.02L1634.63 928.87L1632.52 930.75L1630.42 932.65L1628.34 934.57L1626.27 936.51L1624.21 938.47L1622.17 940.45L1620.14 942.45L1618.12 944.48L1616.12 946.52L1614.14 948.58L1612.17 950.66L1610.22 952.76L1608.28 954.88L1606.36 957.02L1604.46 959.17L1602.58 961.35L1600.71 963.54L1598.87 965.75L1597.04 967.98L1595.23 970.22L1593.44 972.48L1591.67 974.76L1589.92 977.05L1588.2 979.36L1586.49 981.69L1584.81 984.03L1583.14 986.39L1581.51 988.76L1579.89 991.15L1578.3 993.55L1576.73 995.97L1575.18 998.4L1573.67 1000.85L1572.17 1003.3L1570.7 1005.78L1569.26 1008.26L1567.84 1010.76L1566.45 1013.27L1565.09 1015.79L1563.75 1018.32L1562.44 1020.87L1561.17 1023.43L1559.91 1026L1558.69 1028.57L1557.5 1031.16L1556.34 1033.76L1555.2 1036.37L1554.1 1038.99L1553.03 1041.62L1551.99 1044.26L1550.98 1046.91L1550 1049.56L1549.05 1052.23L1548.14 1054.9L1547.26 1057.58L1546.41 1060.27L1545.6 1062.96L1544.81 1065.66L1544.07 1068.37L1543.35 1071.08L1542.67 1073.8L1542.03 1076.53L1541.42 1079.26L1540.84 1081.99L1540.3 1084.73L1539.79 1087.48L1539.32 1090.22L1538.89 1092.98L1538.49 1095.73L1538.12 1098.49L1537.8 1101.25L1537.51 1104.02L1537.25 1106.78L1537.03 1109.55L1536.85 1112.32L1536.7 1115.09L1536.59 1117.87L1536.52 1120.64L1536.48 1123.41L1536.48 1124.8" fill="none" stroke="#231f20" stroke-width="4.7" stroke-linejoin="round" stroke-linecap="square"/>
<path d="M125.9 1122.3L129.2 1126.2L114.3 1135.9Z" fill="#231f20"/>
<path d="M308.8 559L389.31 506.65" fill="none" stroke="#414042" stroke-width="2.4"/><path d="M402.3 498.2L390.57 512.27L384.69 503.21Z" fill="#414042"/>
<path d="M599.3 661.5C601.3 660.87 603.27 660.2 605.23 659.48C607.18 658.76 609.12 658 611.03 657.2C612.94 656.39 614.83 655.54 616.7 654.65C618.57 653.76 620.41 652.83 622.24 651.85C624.06 650.87 625.87 649.85 627.65 648.78C629.43 647.72 631.19 646.61 632.93 645.46C634.67 644.31 636.4 643.12 638.09 641.87C639.77 640.63 641.4 639.33 642.96 637.97C644.53 636.62 646.04 635.2 647.48 633.73C648.93 632.26 650.32 630.74 651.64 629.15C652.97 627.57 654.24 625.93 655.44 624.23C656.65 622.53 657.8 620.78 658.91 619.01C660.03 617.25 661.11 615.47 662.16 613.67C663.2 611.87 664.21 610.05 665.18 608.21C666.15 606.37 667.09 604.52 667.99 602.64C668.89 600.77 669.76 598.87 670.55 596.96C671.34 595.04 672.07 593.1 672.72 591.14C673.38 589.18 673.97 587.2 674.5 585.2C675.02 583.19 675.48 581.17 675.87 579.12" fill="none" stroke="#414042" stroke-width="2.4"/><path d="M679.7 564.1L680.61 582.39L670.15 579.72Z" fill="#414042"/>
<path d="M894.5 538.9L953.5 454.79" fill="none" stroke="#414042" stroke-width="2.4"/><path d="M962.4 442.1L956.77 459.53L947.93 453.33Z" fill="#414042"/>
<path d="M1309.8 633.9C1309.66 631.88 1309.52 629.86 1309.36 627.84C1309.21 625.82 1309.05 623.8 1308.88 621.78C1308.71 619.76 1308.53 617.74 1308.34 615.73C1308.16 613.71 1307.97 611.69 1307.76 609.68C1307.56 607.66 1307.35 605.65 1307.14 603.64C1306.92 601.62 1306.69 599.61 1306.46 597.6C1306.23 595.59 1305.99 593.58 1305.74 591.57C1305.49 589.56 1305.23 587.55 1304.97 585.54C1304.7 583.54 1304.43 581.53 1304.15 579.52C1303.87 577.52 1303.58 575.51 1303.28 573.51C1302.99 571.5 1302.68 569.5 1302.37 567.5C1302.06 565.49 1301.74 563.49 1301.41 561.49C1301.08 559.49 1300.75 557.49 1300.39 555.5C1300.03 553.5 1299.66 551.51 1299.26 549.53C1298.87 547.54 1298.45 545.56 1298.02 543.58C1297.59 541.61 1297.14 539.63 1296.67 537.66C1296.2 535.7 1295.71 533.73 1295.2 531.77C1294.69 529.81 1294.17 527.86 1293.62 525.91C1293.08 523.96 1292.51 522.01 1291.93 520.07" fill="none" stroke="#414042" stroke-width="2.4"/><path d="M1287.9 505.1L1297.66 520.6L1287.23 523.4Z" fill="#414042"/>
<path d="M1571.6 499.2C1572.73 497.44 1573.88 495.7 1575.05 493.97C1576.21 492.24 1577.39 490.51 1578.58 488.81C1579.77 487.1 1580.98 485.4 1582.21 483.72C1583.43 482.04 1584.67 480.36 1585.92 478.7C1587.17 477.04 1588.44 475.4 1589.72 473.76C1591.01 472.13 1592.3 470.5 1593.62 468.89C1594.93 467.28 1596.26 465.68 1597.6 464.09C1598.94 462.51 1600.3 460.93 1601.67 459.37C1603.04 457.81 1604.43 456.26 1605.83 454.72C1607.23 453.18 1608.65 451.66 1610.08 450.13C1611.5 448.61 1612.93 447.1 1614.36 445.58C1615.79 444.07 1617.22 442.56 1618.66 441.06C1620.09 439.55 1621.54 438.05 1622.98 436.55C1624.43 435.05 1625.87 433.56 1627.33 432.07C1628.78 430.58 1630.23 429.09 1631.69 427.61" fill="none" stroke="#414042" stroke-width="2.4"/><path d="M1642.5 416.5L1634.17 432.81L1626.43 425.28Z" fill="#414042"/>
<path d="M1904 610.8C1905.93 610.08 1907.84 609.34 1909.75 608.57C1911.65 607.8 1913.55 607.01 1915.43 606.19C1917.31 605.37 1919.19 604.53 1921.05 603.67C1922.91 602.8 1924.76 601.91 1926.6 601C1928.44 600.09 1930.27 599.15 1932.09 598.19C1933.9 597.23 1935.71 596.24 1937.51 595.23C1939.3 594.22 1941.09 593.19 1942.84 592.11C1944.6 591.04 1946.31 589.91 1948 588.74C1949.68 587.57 1951.34 586.35 1952.95 585.09C1954.57 583.83 1956.16 582.53 1957.71 581.18C1959.26 579.82 1960.78 578.43 1962.27 576.98C1963.76 575.54 1965.2 574.06 1966.59 572.53C1967.97 571.01 1969.31 569.45 1970.59 567.84C1971.87 566.24 1973.09 564.6 1974.27 562.92C1975.44 561.23 1976.56 559.51 1977.63 557.75" fill="none" stroke="#414042" stroke-width="2.4"/><path d="M1986.3 544.9L1980.99 562.43L1972.04 556.39Z" fill="#414042"/>
<line x1="596.9" y1="323.2" x2="631.8" y2="344" stroke="#ed1c24" stroke-width="1.3" />
<line x1="1100.3" y1="313.5" x2="1128.5" y2="343.7" stroke="#ed1c24" stroke-width="1.3" />
<line x1="1848.4" y1="352" x2="1827.2" y2="379.6" stroke="#ed1c24" stroke-width="1.3" />
<text x="556" y="335.5" font-size="44" fill="#231f20" font-style="italic">θ</text><text x="579.3" y="340.7" font-size="25.5" fill="#231f20">l</text><text x="578.8" y="311.3" font-size="25.5" fill="#231f20">m</text>
<text x="1067.55" y="318.7" font-size="44" fill="#231f20" font-style="italic">θ</text><text x="1090.85" y="323.9" font-size="25.5" fill="#231f20">l</text><text x="1090.35" y="294.5" font-size="25.5" fill="#231f20">m</text>
<text x="1802.2" y="420.8" font-size="44" fill="#231f20" font-style="italic">θ</text><text x="1825.5" y="426" font-size="25.5" fill="#231f20">l</text><text x="1825" y="396.6" font-size="25.5" fill="#231f20">m</text>
<circle cx="135.8" cy="688" r="9.5" fill="#fff" stroke="#231f20" stroke-width="2.5"/>
<circle cx="155.9" cy="696.1" r="9.5" fill="#fff" stroke="#231f20" stroke-width="2.5"/>
<circle cx="446.41" cy="494.32" r="9.5" fill="#fff" stroke="#231f20" stroke-width="2.5"/>
<circle cx="664.78" cy="488.48" r="9.5" fill="#fff" stroke="#231f20" stroke-width="2.5"/>
<circle cx="488.99" cy="659.45" r="9.5" fill="#fff" stroke="#231f20" stroke-width="2.5"/>
<circle cx="856.8" cy="686.2" r="9.5" fill="#fff" stroke="#231f20" stroke-width="2.5"/>
<circle cx="910.96" cy="555.79" r="9.5" fill="#fff" stroke="#231f20" stroke-width="2.5"/>
<circle cx="1002.26" cy="435.18" r="9.5" fill="#fff" stroke="#231f20" stroke-width="2.5"/>
<circle cx="1257.78" cy="469.3" r="9.5" fill="#fff" stroke="#231f20" stroke-width="2.5"/>
<circle cx="1286.6" cy="688.7" r="9.5" fill="#fff" stroke="#231f20" stroke-width="2.5"/>
<circle cx="1530.6" cy="686.2" r="9.5" fill="#fff" stroke="#231f20" stroke-width="2.5"/>
<circle cx="1550.3" cy="686.2" r="9.5" fill="#fff" stroke="#231f20" stroke-width="2.5"/>
<circle cx="1657.42" cy="440.82" r="9.5" fill="#fff" stroke="#231f20" stroke-width="2.5"/>
<circle cx="1980.88" cy="468.68" r="9.5" fill="#fff" stroke="#231f20" stroke-width="2.5"/>
<circle cx="1820.68" cy="612.29" r="9.5" fill="#fff" stroke="#231f20" stroke-width="2.5"/>
<text x="131.69" y="667.5" font-size="43" fill="#ed1c24" text-anchor="start" >i</text>
<text x="179.97" y="691.8" font-size="43" fill="#ed1c24" text-anchor="start" >v</text>
<text x="426.99" y="478.6" font-size="43" fill="#ed1c24" text-anchor="start" >ii</text>
<text x="677.39" y="503.2" font-size="43" fill="#ed1c24" text-anchor="start" >iii</text>
<text x="473.19" y="634.5" font-size="43" fill="#ed1c24" text-anchor="start" >iv</text>
<text x="876.47" y="686.2" font-size="43" fill="#ed1c24" text-anchor="start" >v</text>
<text x="931.79" y="569.3" font-size="43" fill="#ed1c24" text-anchor="start" >iv</text>
<text x="1009.69" y="478.6" font-size="43" fill="#ed1c24" text-anchor="start" >iii</text>
<text x="1266.79" y="457.2" font-size="43" fill="#ed1c24" text-anchor="start" >ii</text>
<text x="1304.29" y="688.7" font-size="43" fill="#ed1c24" text-anchor="start" >i</text>
<text x="1506.99" y="686.2" font-size="43" fill="#ed1c24" text-anchor="start" >i</text>
<text x="1558.57" y="669" font-size="43" fill="#ed1c24" text-anchor="start" >v</text>
<text x="1813.79" y="659.8" font-size="43" fill="#ed1c24" text-anchor="start" >iv</text>
<text x="1670.49" y="468.5" font-size="43" fill="#ed1c24" text-anchor="start" >ii</text>
<text x="1993.99" y="489.9" font-size="43" fill="#ed1c24" text-anchor="start" >iii</text>
<text x="233.69" y="72" font-size="43" fill="#ed1c24" text-anchor="start" >i</text>
<text x="530.89" y="68.5" font-size="43" fill="#ed1c24" text-anchor="start" >ii</text>
<text x="950.89" y="68.5" font-size="43" fill="#ed1c24" text-anchor="start" >iii</text>
<text x="1375.99" y="69" font-size="43" fill="#ed1c24" text-anchor="start" >iv</text>
<text x="1791.67" y="71.9" font-size="43" fill="#ed1c24" text-anchor="start" >v</text>
</svg>
</body>
</html>
